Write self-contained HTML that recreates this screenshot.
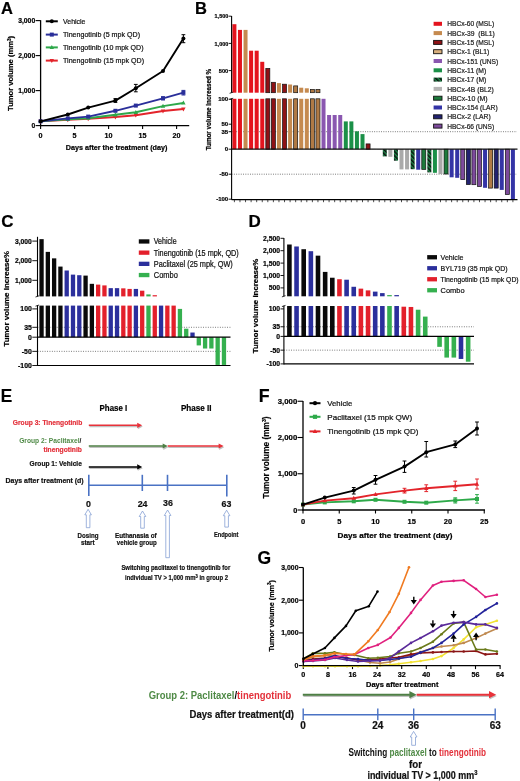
<!DOCTYPE html>
<html><head><meta charset="utf-8"><title>Figure</title>
<style>
html,body{margin:0;padding:0;background:#fff;}
body{width:520px;height:781px;overflow:hidden;}
svg{display:block;font-family:'Liberation Sans', Arial, Helvetica, sans-serif;}
</style></head><body>
<svg width="520" height="781" viewBox="0 0 520 781">
<defs>
<pattern id="hatch" patternUnits="userSpaceOnUse" width="3" height="3" patternTransform="rotate(-45)">
<rect width="3" height="3" fill="#1f8a4c"/><rect width="1.6" height="3" fill="#0b140e"/>
</pattern>
<filter id="sh" x="-5%" y="-50%" width="110%" height="300%"><feGaussianBlur stdDeviation="0.6"/></filter>
</defs>
<rect width="520" height="781" fill="#fff"/>
<text x="0.90" y="13.60" font-size="16.5" font-weight="bold" fill="#000" text-anchor="start" stroke="#000" stroke-width="0.2" >A</text>
<line x1="40.60" y1="20.20" x2="40.60" y2="126.20" stroke="#000" stroke-width="1.3" />
<line x1="40.00" y1="125.60" x2="189.20" y2="125.60" stroke="#000" stroke-width="1.3" />
<line x1="35.60" y1="125.60" x2="40.60" y2="125.60" stroke="#000" stroke-width="1.1" />
<text x="35.20" y="128.00" font-size="6.7" font-weight="bold" fill="#000" text-anchor="end" stroke="#000" stroke-width="0.2" >0</text>
<line x1="35.60" y1="90.60" x2="40.60" y2="90.60" stroke="#000" stroke-width="1.1" />
<text x="35.20" y="93.00" font-size="6.7" font-weight="bold" fill="#000" text-anchor="end" stroke="#000" stroke-width="0.2" textLength="17.0" lengthAdjust="spacingAndGlyphs" >1,000</text>
<line x1="35.60" y1="55.60" x2="40.60" y2="55.60" stroke="#000" stroke-width="1.1" />
<text x="35.20" y="58.00" font-size="6.7" font-weight="bold" fill="#000" text-anchor="end" stroke="#000" stroke-width="0.2" textLength="17.0" lengthAdjust="spacingAndGlyphs" >2,000</text>
<line x1="35.60" y1="20.60" x2="40.60" y2="20.60" stroke="#000" stroke-width="1.1" />
<text x="35.20" y="23.00" font-size="6.7" font-weight="bold" fill="#000" text-anchor="end" stroke="#000" stroke-width="0.2" textLength="17.0" lengthAdjust="spacingAndGlyphs" >3,000</text>
<line x1="40.60" y1="125.60" x2="40.60" y2="129.10" stroke="#000" stroke-width="1.1" />
<text x="40.60" y="138.20" font-size="7.2" font-weight="bold" fill="#000" text-anchor="middle" stroke="#000" stroke-width="0.2" >0</text>
<line x1="74.60" y1="125.60" x2="74.60" y2="129.10" stroke="#000" stroke-width="1.1" />
<text x="74.60" y="138.20" font-size="7.2" font-weight="bold" fill="#000" text-anchor="middle" stroke="#000" stroke-width="0.2" >5</text>
<line x1="108.60" y1="125.60" x2="108.60" y2="129.10" stroke="#000" stroke-width="1.1" />
<text x="108.60" y="138.20" font-size="7.2" font-weight="bold" fill="#000" text-anchor="middle" stroke="#000" stroke-width="0.2" >10</text>
<line x1="142.60" y1="125.60" x2="142.60" y2="129.10" stroke="#000" stroke-width="1.1" />
<text x="142.60" y="138.20" font-size="7.2" font-weight="bold" fill="#000" text-anchor="middle" stroke="#000" stroke-width="0.2" >15</text>
<line x1="176.60" y1="125.60" x2="176.60" y2="129.10" stroke="#000" stroke-width="1.1" />
<text x="176.60" y="138.20" font-size="7.2" font-weight="bold" fill="#000" text-anchor="middle" stroke="#000" stroke-width="0.2" >20</text>
<text x="116.60" y="150.30" font-size="7.4" font-weight="bold" fill="#000" text-anchor="middle" stroke="#000" stroke-width="0.2" textLength="101.5" lengthAdjust="spacingAndGlyphs" >Days after the treatment (day)</text>
<text transform="translate(13.40,73.40) rotate(-90)" font-size="7.6" font-weight="bold" fill="#000" text-anchor="middle" stroke="#000" stroke-width="0.2" >Tumor volume (mm<tspan dy="-2.6" font-size="4.7">3</tspan><tspan dy="2.6">)</tspan></text>
<polyline points="40.60,121.30 67.80,119.80 88.20,118.90 115.40,117.00 135.80,115.20 163.00,111.00 183.40,109.00" fill="none" stroke="#e3242b" stroke-width="1.9" stroke-linejoin="round" />
<polygon points="40.60,123.70 42.80,119.70 38.40,119.70" fill="#e3242b"/>
<polygon points="67.80,122.20 70.00,118.20 65.60,118.20" fill="#e3242b"/>
<polygon points="88.20,121.30 90.40,117.30 86.00,117.30" fill="#e3242b"/>
<polygon points="115.40,119.40 117.60,115.40 113.20,115.40" fill="#e3242b"/>
<polygon points="135.80,117.60 138.00,113.60 133.60,113.60" fill="#e3242b"/>
<polygon points="163.00,113.40 165.20,109.40 160.80,109.40" fill="#e3242b"/>
<polygon points="183.40,111.40 185.60,107.40 181.20,107.40" fill="#e3242b"/>
<polyline points="40.60,121.30 67.80,119.40 88.20,118.20 115.40,114.80 135.80,112.30 163.00,106.10 183.40,103.00" fill="none" stroke="#2ea84a" stroke-width="1.9" stroke-linejoin="round" />
<polygon points="40.60,118.90 42.80,122.90 38.40,122.90" fill="#2ea84a"/>
<polygon points="67.80,117.00 70.00,121.00 65.60,121.00" fill="#2ea84a"/>
<polygon points="88.20,115.80 90.40,119.80 86.00,119.80" fill="#2ea84a"/>
<polygon points="115.40,112.40 117.60,116.40 113.20,116.40" fill="#2ea84a"/>
<polygon points="135.80,109.90 138.00,113.90 133.60,113.90" fill="#2ea84a"/>
<polygon points="163.00,103.70 165.20,107.70 160.80,107.70" fill="#2ea84a"/>
<polygon points="183.40,100.60 185.60,104.60 181.20,104.60" fill="#2ea84a"/>
<polyline points="40.60,121.30 67.80,118.40 88.20,116.60 115.40,110.80 135.80,105.60 163.00,98.30 183.40,92.70" fill="none" stroke="#2a2f9a" stroke-width="1.9" stroke-linejoin="round" />
<rect x="38.60" y="119.30" width="4.00" height="4.00" fill="#2a2f9a"/>
<rect x="65.80" y="116.40" width="4.00" height="4.00" fill="#2a2f9a"/>
<rect x="86.20" y="114.60" width="4.00" height="4.00" fill="#2a2f9a"/>
<rect x="113.40" y="108.80" width="4.00" height="4.00" fill="#2a2f9a"/>
<rect x="133.80" y="103.60" width="4.00" height="4.00" fill="#2a2f9a"/>
<rect x="161.00" y="96.30" width="4.00" height="4.00" fill="#2a2f9a"/>
<rect x="181.40" y="90.70" width="4.00" height="4.00" fill="#2a2f9a"/>
<polyline points="40.60,121.30 67.80,114.50 88.20,107.60 115.40,100.60 135.80,88.30 163.00,71.00 183.40,38.60" fill="none" stroke="#000" stroke-width="1.9" stroke-linejoin="round" />
<circle cx="40.60" cy="121.30" r="2.0" fill="#000"/>
<circle cx="67.80" cy="114.50" r="2.0" fill="#000"/>
<circle cx="88.20" cy="107.60" r="2.0" fill="#000"/>
<circle cx="115.40" cy="100.60" r="2.0" fill="#000"/>
<circle cx="135.80" cy="88.30" r="2.0" fill="#000"/>
<circle cx="163.00" cy="71.00" r="2.0" fill="#000"/>
<circle cx="183.40" cy="38.60" r="2.0" fill="#000"/>
<line x1="183.40" y1="34.70" x2="183.40" y2="42.70" stroke="#000" stroke-width="1.0" />
<line x1="181.50" y1="34.70" x2="185.30" y2="34.70" stroke="#000" stroke-width="1.0" />
<line x1="181.50" y1="42.70" x2="185.30" y2="42.70" stroke="#000" stroke-width="1.0" />
<line x1="135.80" y1="84.40" x2="135.80" y2="91.80" stroke="#000" stroke-width="1.0" />
<line x1="133.90" y1="84.40" x2="137.70" y2="84.40" stroke="#000" stroke-width="1.0" />
<line x1="133.90" y1="91.80" x2="137.70" y2="91.80" stroke="#000" stroke-width="1.0" />
<line x1="115.40" y1="98.60" x2="115.40" y2="102.40" stroke="#000" stroke-width="1.0" />
<line x1="113.50" y1="98.60" x2="117.30" y2="98.60" stroke="#000" stroke-width="1.0" />
<line x1="113.50" y1="102.40" x2="117.30" y2="102.40" stroke="#000" stroke-width="1.0" />
<line x1="183.40" y1="90.40" x2="183.40" y2="95.00" stroke="#2a2f9a" stroke-width="1.0" />
<line x1="181.50" y1="90.40" x2="185.30" y2="90.40" stroke="#2a2f9a" stroke-width="1.0" />
<line x1="181.50" y1="95.00" x2="185.30" y2="95.00" stroke="#2a2f9a" stroke-width="1.0" />
<line x1="163.00" y1="96.80" x2="163.00" y2="99.80" stroke="#2a2f9a" stroke-width="1.0" />
<line x1="161.10" y1="96.80" x2="164.90" y2="96.80" stroke="#2a2f9a" stroke-width="1.0" />
<line x1="161.10" y1="99.80" x2="164.90" y2="99.80" stroke="#2a2f9a" stroke-width="1.0" />
<line x1="45.80" y1="21.30" x2="57.80" y2="21.30" stroke="#000" stroke-width="2.0" />
<circle cx="51.80" cy="21.30" r="2.0" fill="#000"/>
<text x="63.00" y="24.10" font-size="7.8" font-weight="normal" fill="#111" text-anchor="start" stroke="#111" stroke-width="0.22" textLength="22.5" lengthAdjust="spacingAndGlyphs" >Vehicle</text>
<line x1="45.80" y1="34.60" x2="57.80" y2="34.60" stroke="#2a2f9a" stroke-width="2.0" />
<rect x="49.80" y="32.60" width="4.00" height="4.00" fill="#2a2f9a"/>
<text x="63.00" y="37.40" font-size="7.8" font-weight="normal" fill="#111" text-anchor="start" stroke="#111" stroke-width="0.22" textLength="77" lengthAdjust="spacingAndGlyphs" >Tinengotinib (5 mpk QD)</text>
<line x1="45.80" y1="47.40" x2="57.80" y2="47.40" stroke="#2ea84a" stroke-width="2.0" />
<polygon points="51.80,45.00 54.00,49.00 49.60,49.00" fill="#2ea84a"/>
<text x="63.00" y="50.20" font-size="7.8" font-weight="normal" fill="#111" text-anchor="start" stroke="#111" stroke-width="0.22" textLength="80.5" lengthAdjust="spacingAndGlyphs" >Tinengotinib (10 mpk QD)</text>
<line x1="45.80" y1="60.60" x2="57.80" y2="60.60" stroke="#e3242b" stroke-width="2.0" />
<polygon points="51.80,63.00 54.00,59.00 49.60,59.00" fill="#e3242b"/>
<text x="63.00" y="63.40" font-size="7.8" font-weight="normal" fill="#111" text-anchor="start" stroke="#111" stroke-width="0.22" textLength="81" lengthAdjust="spacingAndGlyphs" >Tinengotinib (15 mpk QD)</text>
<text x="195.00" y="13.60" font-size="16.5" font-weight="bold" fill="#000" text-anchor="start" stroke="#000" stroke-width="0.2" >B</text>
<line x1="231.60" y1="131.70" x2="517.00" y2="131.70" stroke="#333" stroke-width="0.7" stroke-dasharray="0.9,1.4"/>
<line x1="231.60" y1="174.20" x2="517.00" y2="174.20" stroke="#333" stroke-width="0.7" stroke-dasharray="0.9,1.4"/>
<rect x="232.40" y="98.80" width="4.00" height="50.40" fill="#e4141e" />
<rect x="232.40" y="24.20" width="4.00" height="68.50" fill="#e4141e" />
<rect x="237.97" y="98.80" width="4.00" height="50.40" fill="#e4141e" />
<rect x="237.97" y="29.90" width="4.00" height="62.80" fill="#e4141e" />
<rect x="243.54" y="98.80" width="4.00" height="50.40" fill="#c58a4f" />
<rect x="243.54" y="29.90" width="4.00" height="62.80" fill="#c58a4f" />
<rect x="249.11" y="98.80" width="4.00" height="50.40" fill="#e4141e" />
<rect x="249.11" y="50.70" width="4.00" height="42.00" fill="#e4141e" />
<rect x="254.68" y="98.80" width="4.00" height="50.40" fill="#e4141e" />
<rect x="254.68" y="50.70" width="4.00" height="42.00" fill="#e4141e" />
<rect x="260.25" y="98.80" width="4.00" height="50.40" fill="#e4141e" />
<rect x="260.25" y="61.80" width="4.00" height="30.90" fill="#e4141e" />
<rect x="265.82" y="98.80" width="4.00" height="50.40" fill="#8e1216" stroke="#111" stroke-width="0.7" />
<rect x="265.82" y="68.40" width="4.00" height="24.30" fill="#8e1216" stroke="#111" stroke-width="0.7" />
<rect x="271.39" y="98.80" width="4.00" height="50.40" fill="#8e1216" stroke="#111" stroke-width="0.7" />
<rect x="271.39" y="82.30" width="4.00" height="10.40" fill="#8e1216" stroke="#111" stroke-width="0.7" />
<rect x="276.96" y="98.80" width="4.00" height="50.40" fill="#c58a4f" />
<rect x="276.96" y="83.10" width="4.00" height="9.60" fill="#c58a4f" />
<rect x="282.53" y="98.80" width="4.00" height="50.40" fill="#8e1216" stroke="#111" stroke-width="0.7" />
<rect x="282.53" y="84.20" width="4.00" height="8.50" fill="#8e1216" stroke="#111" stroke-width="0.7" />
<rect x="288.10" y="98.80" width="4.00" height="50.40" fill="#c58a4f" />
<rect x="288.10" y="84.50" width="4.00" height="8.20" fill="#c58a4f" />
<rect x="293.67" y="98.80" width="4.00" height="50.40" fill="#b07a45" stroke="#111" stroke-width="0.7" />
<rect x="293.67" y="85.90" width="4.00" height="6.80" fill="#b07a45" stroke="#111" stroke-width="0.7" />
<rect x="299.24" y="98.80" width="4.00" height="50.40" fill="#c58a4f" />
<rect x="299.24" y="87.70" width="4.00" height="5.00" fill="#c58a4f" />
<rect x="304.81" y="98.80" width="4.00" height="50.40" fill="#c58a4f" />
<rect x="304.81" y="88.30" width="4.00" height="4.40" fill="#c58a4f" />
<rect x="310.38" y="98.80" width="4.00" height="50.40" fill="#b07a45" stroke="#111" stroke-width="0.7" />
<rect x="310.38" y="89.40" width="4.00" height="3.30" fill="#b07a45" stroke="#111" stroke-width="0.7" />
<rect x="315.95" y="98.80" width="4.00" height="50.40" fill="#b07a45" stroke="#111" stroke-width="0.7" />
<rect x="315.95" y="89.40" width="4.00" height="3.30" fill="#b07a45" stroke="#111" stroke-width="0.7" />
<rect x="321.52" y="98.80" width="4.00" height="50.40" fill="#8a57b0" />
<rect x="327.09" y="115.00" width="4.00" height="34.20" fill="#8a57b0" />
<rect x="332.66" y="115.00" width="4.00" height="34.20" fill="#8a57b0" />
<rect x="338.23" y="115.00" width="4.00" height="34.20" fill="#8a57b0" />
<rect x="343.80" y="121.40" width="4.00" height="27.80" fill="#1b9048" />
<rect x="349.37" y="121.40" width="4.00" height="27.80" fill="#1b9048" />
<rect x="354.94" y="131.30" width="4.00" height="17.90" fill="#1b9048" />
<rect x="360.51" y="134.10" width="4.00" height="15.10" fill="#1b9048" />
<rect x="366.08" y="143.90" width="4.00" height="5.30" fill="#8e1216" stroke="#111" stroke-width="0.7" />
<rect x="371.65" y="148.90" width="4.00" height="0.30" fill="#a9a9a9" />
<rect x="377.22" y="149.20" width="4.00" height="0.30" fill="#a9a9a9" />
<rect x="382.79" y="149.20" width="4.00" height="7.20" fill="url(#hatch)" />
<rect x="388.36" y="149.20" width="4.00" height="7.60" fill="#a9a9a9" />
<rect x="393.93" y="149.20" width="4.00" height="11.50" fill="url(#hatch)" />
<rect x="399.50" y="149.20" width="4.00" height="20.20" fill="#a9a9a9" />
<rect x="405.07" y="149.20" width="4.00" height="20.20" fill="#a9a9a9" />
<rect x="410.64" y="149.20" width="4.00" height="20.00" fill="url(#hatch)" />
<rect x="416.21" y="149.20" width="4.00" height="20.50" fill="#3434a6" />
<rect x="421.78" y="149.20" width="4.00" height="20.20" fill="#1d7a3c" stroke="#111" stroke-width="0.7" />
<rect x="427.35" y="149.20" width="4.00" height="23.20" fill="url(#hatch)" />
<rect x="432.92" y="149.20" width="4.00" height="23.60" fill="#1b9048" />
<rect x="438.49" y="149.20" width="4.00" height="24.80" fill="#a9a9a9" />
<rect x="444.06" y="149.20" width="4.00" height="24.80" fill="#1d7a3c" stroke="#111" stroke-width="0.7" />
<rect x="449.63" y="149.20" width="4.00" height="28.10" fill="#3434a6" />
<rect x="455.20" y="149.20" width="4.00" height="28.60" fill="#3434a6" />
<rect x="460.77" y="149.20" width="4.00" height="30.40" fill="#7d4a9c" stroke="#111" stroke-width="0.7" />
<rect x="466.34" y="149.20" width="4.00" height="35.40" fill="#232270" stroke="#111" stroke-width="0.7" />
<rect x="471.91" y="149.20" width="4.00" height="35.50" fill="#7d4a9c" stroke="#111" stroke-width="0.7" />
<rect x="477.48" y="149.20" width="4.00" height="37.30" fill="#7d4a9c" stroke="#111" stroke-width="0.7" />
<rect x="483.05" y="149.20" width="4.00" height="38.60" fill="#3434a6" />
<rect x="488.62" y="149.20" width="4.00" height="38.90" fill="#b07a45" stroke="#111" stroke-width="0.7" />
<rect x="494.19" y="149.20" width="4.00" height="38.90" fill="#232270" stroke="#111" stroke-width="0.7" />
<rect x="499.76" y="149.20" width="4.00" height="40.70" fill="#3434a6" />
<rect x="505.33" y="149.20" width="4.00" height="45.30" fill="#7d4a9c" stroke="#111" stroke-width="0.7" />
<rect x="510.90" y="149.20" width="4.00" height="49.80" fill="#3434a6" />
<line x1="231.60" y1="16.00" x2="231.60" y2="92.70" stroke="#000" stroke-width="1.1" />
<line x1="231.60" y1="98.50" x2="231.60" y2="199.80" stroke="#000" stroke-width="1.1" />
<line x1="229.60" y1="93.30" x2="233.20" y2="92.10" stroke="#000" stroke-width="0.8" />
<line x1="229.60" y1="99.40" x2="233.20" y2="98.20" stroke="#000" stroke-width="0.8" />
<line x1="231.60" y1="149.20" x2="517.50" y2="149.20" stroke="#111" stroke-width="1.2" />
<line x1="231.60" y1="199.60" x2="517.50" y2="199.60" stroke="#000" stroke-width="1.1" />
<line x1="234.40" y1="199.60" x2="234.40" y2="202.20" stroke="#000" stroke-width="0.7" />
<line x1="239.97" y1="199.60" x2="239.97" y2="202.20" stroke="#000" stroke-width="0.7" />
<line x1="245.54" y1="199.60" x2="245.54" y2="202.20" stroke="#000" stroke-width="0.7" />
<line x1="251.11" y1="199.60" x2="251.11" y2="202.20" stroke="#000" stroke-width="0.7" />
<line x1="256.68" y1="199.60" x2="256.68" y2="202.20" stroke="#000" stroke-width="0.7" />
<line x1="262.25" y1="199.60" x2="262.25" y2="202.20" stroke="#000" stroke-width="0.7" />
<line x1="267.82" y1="199.60" x2="267.82" y2="202.20" stroke="#000" stroke-width="0.7" />
<line x1="273.39" y1="199.60" x2="273.39" y2="202.20" stroke="#000" stroke-width="0.7" />
<line x1="278.96" y1="199.60" x2="278.96" y2="202.20" stroke="#000" stroke-width="0.7" />
<line x1="284.53" y1="199.60" x2="284.53" y2="202.20" stroke="#000" stroke-width="0.7" />
<line x1="290.10" y1="199.60" x2="290.10" y2="202.20" stroke="#000" stroke-width="0.7" />
<line x1="295.67" y1="199.60" x2="295.67" y2="202.20" stroke="#000" stroke-width="0.7" />
<line x1="301.24" y1="199.60" x2="301.24" y2="202.20" stroke="#000" stroke-width="0.7" />
<line x1="306.81" y1="199.60" x2="306.81" y2="202.20" stroke="#000" stroke-width="0.7" />
<line x1="312.38" y1="199.60" x2="312.38" y2="202.20" stroke="#000" stroke-width="0.7" />
<line x1="317.95" y1="199.60" x2="317.95" y2="202.20" stroke="#000" stroke-width="0.7" />
<line x1="323.52" y1="199.60" x2="323.52" y2="202.20" stroke="#000" stroke-width="0.7" />
<line x1="329.09" y1="199.60" x2="329.09" y2="202.20" stroke="#000" stroke-width="0.7" />
<line x1="334.66" y1="199.60" x2="334.66" y2="202.20" stroke="#000" stroke-width="0.7" />
<line x1="340.23" y1="199.60" x2="340.23" y2="202.20" stroke="#000" stroke-width="0.7" />
<line x1="345.80" y1="199.60" x2="345.80" y2="202.20" stroke="#000" stroke-width="0.7" />
<line x1="351.37" y1="199.60" x2="351.37" y2="202.20" stroke="#000" stroke-width="0.7" />
<line x1="356.94" y1="199.60" x2="356.94" y2="202.20" stroke="#000" stroke-width="0.7" />
<line x1="362.51" y1="199.60" x2="362.51" y2="202.20" stroke="#000" stroke-width="0.7" />
<line x1="368.08" y1="199.60" x2="368.08" y2="202.20" stroke="#000" stroke-width="0.7" />
<line x1="373.65" y1="199.60" x2="373.65" y2="202.20" stroke="#000" stroke-width="0.7" />
<line x1="379.22" y1="199.60" x2="379.22" y2="202.20" stroke="#000" stroke-width="0.7" />
<line x1="384.79" y1="199.60" x2="384.79" y2="202.20" stroke="#000" stroke-width="0.7" />
<line x1="390.36" y1="199.60" x2="390.36" y2="202.20" stroke="#000" stroke-width="0.7" />
<line x1="395.93" y1="199.60" x2="395.93" y2="202.20" stroke="#000" stroke-width="0.7" />
<line x1="401.50" y1="199.60" x2="401.50" y2="202.20" stroke="#000" stroke-width="0.7" />
<line x1="407.07" y1="199.60" x2="407.07" y2="202.20" stroke="#000" stroke-width="0.7" />
<line x1="412.64" y1="199.60" x2="412.64" y2="202.20" stroke="#000" stroke-width="0.7" />
<line x1="418.21" y1="199.60" x2="418.21" y2="202.20" stroke="#000" stroke-width="0.7" />
<line x1="423.78" y1="199.60" x2="423.78" y2="202.20" stroke="#000" stroke-width="0.7" />
<line x1="429.35" y1="199.60" x2="429.35" y2="202.20" stroke="#000" stroke-width="0.7" />
<line x1="434.92" y1="199.60" x2="434.92" y2="202.20" stroke="#000" stroke-width="0.7" />
<line x1="440.49" y1="199.60" x2="440.49" y2="202.20" stroke="#000" stroke-width="0.7" />
<line x1="446.06" y1="199.60" x2="446.06" y2="202.20" stroke="#000" stroke-width="0.7" />
<line x1="451.63" y1="199.60" x2="451.63" y2="202.20" stroke="#000" stroke-width="0.7" />
<line x1="457.20" y1="199.60" x2="457.20" y2="202.20" stroke="#000" stroke-width="0.7" />
<line x1="462.77" y1="199.60" x2="462.77" y2="202.20" stroke="#000" stroke-width="0.7" />
<line x1="468.34" y1="199.60" x2="468.34" y2="202.20" stroke="#000" stroke-width="0.7" />
<line x1="473.91" y1="199.60" x2="473.91" y2="202.20" stroke="#000" stroke-width="0.7" />
<line x1="479.48" y1="199.60" x2="479.48" y2="202.20" stroke="#000" stroke-width="0.7" />
<line x1="485.05" y1="199.60" x2="485.05" y2="202.20" stroke="#000" stroke-width="0.7" />
<line x1="490.62" y1="199.60" x2="490.62" y2="202.20" stroke="#000" stroke-width="0.7" />
<line x1="496.19" y1="199.60" x2="496.19" y2="202.20" stroke="#000" stroke-width="0.7" />
<line x1="501.76" y1="199.60" x2="501.76" y2="202.20" stroke="#000" stroke-width="0.7" />
<line x1="507.33" y1="199.60" x2="507.33" y2="202.20" stroke="#000" stroke-width="0.7" />
<line x1="512.90" y1="199.60" x2="512.90" y2="202.20" stroke="#000" stroke-width="0.7" />
<line x1="228.60" y1="16.20" x2="231.60" y2="16.20" stroke="#000" stroke-width="0.9" />
<text x="228.20" y="18.30" font-size="6.0" font-weight="bold" fill="#000" text-anchor="end" stroke="#000" stroke-width="0.2" textLength="13.6" lengthAdjust="spacingAndGlyphs" >1,500</text>
<line x1="228.60" y1="43.40" x2="231.60" y2="43.40" stroke="#000" stroke-width="0.9" />
<text x="228.20" y="45.50" font-size="6.0" font-weight="bold" fill="#000" text-anchor="end" stroke="#000" stroke-width="0.2" textLength="13.6" lengthAdjust="spacingAndGlyphs" >1,000</text>
<line x1="228.60" y1="70.60" x2="231.60" y2="70.60" stroke="#000" stroke-width="0.9" />
<text x="228.20" y="72.70" font-size="6.0" font-weight="bold" fill="#000" text-anchor="end" stroke="#000" stroke-width="0.2" textLength="9.4" lengthAdjust="spacingAndGlyphs" >500</text>
<line x1="228.60" y1="99.20" x2="231.60" y2="99.20" stroke="#000" stroke-width="0.9" />
<text x="228.20" y="101.30" font-size="6.0" font-weight="bold" fill="#000" text-anchor="end" stroke="#000" stroke-width="0.2" >100</text>
<line x1="228.60" y1="124.20" x2="231.60" y2="124.20" stroke="#000" stroke-width="0.9" />
<text x="228.20" y="126.30" font-size="6.0" font-weight="bold" fill="#000" text-anchor="end" stroke="#000" stroke-width="0.2" >50</text>
<line x1="228.60" y1="131.70" x2="231.60" y2="131.70" stroke="#000" stroke-width="0.9" />
<text x="228.20" y="133.80" font-size="6.0" font-weight="bold" fill="#000" text-anchor="end" stroke="#000" stroke-width="0.2" >35</text>
<line x1="228.60" y1="149.20" x2="231.60" y2="149.20" stroke="#000" stroke-width="0.9" />
<text x="228.20" y="151.30" font-size="6.0" font-weight="bold" fill="#000" text-anchor="end" stroke="#000" stroke-width="0.2" >0</text>
<line x1="228.60" y1="174.20" x2="231.60" y2="174.20" stroke="#000" stroke-width="0.9" />
<text x="228.20" y="176.30" font-size="6.0" font-weight="bold" fill="#000" text-anchor="end" stroke="#000" stroke-width="0.2" >-50</text>
<line x1="228.60" y1="199.20" x2="231.60" y2="199.20" stroke="#000" stroke-width="0.9" />
<text x="228.20" y="201.30" font-size="6.0" font-weight="bold" fill="#000" text-anchor="end" stroke="#000" stroke-width="0.2" >-100</text>
<text transform="translate(210.70,109.60) rotate(-90)" font-size="7.2" font-weight="bold" fill="#000" text-anchor="middle" stroke="#000" stroke-width="0.2" textLength="81.5" lengthAdjust="spacingAndGlyphs" >Tumor volume increased %</text>
<rect x="433.60" y="21.80" width="8.40" height="4.00" fill="#e4141e" />
<text x="447.20" y="26.40" font-size="7.4" font-weight="normal" fill="#222" text-anchor="start" stroke="#222" stroke-width="0.22" textLength="47" lengthAdjust="spacingAndGlyphs" >HBCx-60 (MSL)</text>
<rect x="433.60" y="31.10" width="8.40" height="4.00" fill="#c58a4f" />
<text x="447.20" y="35.70" font-size="7.4" font-weight="normal" fill="#222" text-anchor="start" stroke="#222" stroke-width="0.22" textLength="47.5" lengthAdjust="spacingAndGlyphs" >HBCx-39&#160; (BL1)</text>
<rect x="433.60" y="40.40" width="8.40" height="4.00" fill="#8e1216" stroke="#111" stroke-width="0.9" />
<text x="447.20" y="45.00" font-size="7.4" font-weight="normal" fill="#222" text-anchor="start" stroke="#222" stroke-width="0.22" textLength="47" lengthAdjust="spacingAndGlyphs" >HBCx-15 (MSL)</text>
<rect x="433.60" y="49.70" width="8.40" height="4.00" fill="#d9b07e" stroke="#111" stroke-width="0.9" />
<text x="447.20" y="54.30" font-size="7.4" font-weight="normal" fill="#222" text-anchor="start" stroke="#222" stroke-width="0.22" textLength="42" lengthAdjust="spacingAndGlyphs" >HBCx-1 (BL1)</text>
<rect x="433.60" y="59.00" width="8.40" height="4.00" fill="#8a57b0" />
<text x="447.20" y="63.60" font-size="7.4" font-weight="normal" fill="#222" text-anchor="start" stroke="#222" stroke-width="0.22" textLength="51" lengthAdjust="spacingAndGlyphs" >HBCx-151 (UNS)</text>
<rect x="433.60" y="68.30" width="8.40" height="4.00" fill="#1b9048" />
<text x="447.20" y="72.90" font-size="7.4" font-weight="normal" fill="#222" text-anchor="start" stroke="#222" stroke-width="0.22" textLength="39" lengthAdjust="spacingAndGlyphs" >HBCx-11 (M)</text>
<rect x="433.60" y="77.60" width="8.40" height="4.00" fill="url(#hatch)" />
<text x="447.20" y="82.20" font-size="7.4" font-weight="normal" fill="#222" text-anchor="start" stroke="#222" stroke-width="0.22" textLength="39" lengthAdjust="spacingAndGlyphs" >HBCx-17 (M)</text>
<rect x="433.60" y="86.90" width="8.40" height="4.00" fill="#b4b4b4" />
<text x="447.20" y="91.50" font-size="7.4" font-weight="normal" fill="#222" text-anchor="start" stroke="#222" stroke-width="0.22" textLength="46.5" lengthAdjust="spacingAndGlyphs" >HBCx-4B (BL2)</text>
<rect x="433.60" y="96.20" width="8.40" height="4.00" fill="#1d7a3c" stroke="#111" stroke-width="0.9" />
<text x="447.20" y="100.80" font-size="7.4" font-weight="normal" fill="#222" text-anchor="start" stroke="#222" stroke-width="0.22" textLength="40.5" lengthAdjust="spacingAndGlyphs" >HBCx-10 (M)</text>
<rect x="433.60" y="105.50" width="8.40" height="4.00" fill="#3434a6" />
<text x="447.20" y="110.10" font-size="7.4" font-weight="normal" fill="#222" text-anchor="start" stroke="#222" stroke-width="0.22" textLength="50.5" lengthAdjust="spacingAndGlyphs" >HBCx-154 (LAR)</text>
<rect x="433.60" y="114.80" width="8.40" height="4.00" fill="#232270" stroke="#111" stroke-width="0.9" />
<text x="447.20" y="119.40" font-size="7.4" font-weight="normal" fill="#222" text-anchor="start" stroke="#222" stroke-width="0.22" textLength="43.5" lengthAdjust="spacingAndGlyphs" >HBCx-2 (LAR)</text>
<rect x="433.60" y="124.10" width="8.40" height="4.00" fill="#7d4a9c" stroke="#111" stroke-width="0.9" />
<text x="447.20" y="128.70" font-size="7.4" font-weight="normal" fill="#222" text-anchor="start" stroke="#222" stroke-width="0.22" textLength="47" lengthAdjust="spacingAndGlyphs" >HBCx-66 (UNS)</text>
<text x="1.20" y="227.00" font-size="17.0" font-weight="bold" fill="#000" text-anchor="start" stroke="#000" stroke-width="0.2" >C</text>
<line x1="37.50" y1="327.30" x2="230.50" y2="327.30" stroke="#333" stroke-width="0.7" stroke-dasharray="0.9,1.5"/>
<line x1="37.50" y1="351.35" x2="230.50" y2="351.35" stroke="#333" stroke-width="0.7" stroke-dasharray="0.9,1.5"/>
<rect x="39.40" y="305.60" width="4.30" height="31.60" fill="#0a0a0a" />
<rect x="39.40" y="239.14" width="4.30" height="57.26" fill="#0a0a0a" />
<rect x="45.69" y="305.60" width="4.30" height="31.60" fill="#0a0a0a" />
<rect x="45.69" y="251.88" width="4.30" height="44.52" fill="#0a0a0a" />
<rect x="51.98" y="305.60" width="4.30" height="31.60" fill="#0a0a0a" />
<rect x="51.98" y="258.35" width="4.30" height="38.05" fill="#0a0a0a" />
<rect x="58.27" y="305.60" width="4.30" height="31.60" fill="#0a0a0a" />
<rect x="58.27" y="266.58" width="4.30" height="29.82" fill="#0a0a0a" />
<rect x="64.56" y="305.60" width="4.30" height="31.60" fill="#2b2f9c" />
<rect x="64.56" y="270.50" width="4.30" height="25.90" fill="#2b2f9c" />
<rect x="70.85" y="305.60" width="4.30" height="31.60" fill="#2b2f9c" />
<rect x="70.85" y="274.62" width="4.30" height="21.78" fill="#2b2f9c" />
<rect x="77.14" y="305.60" width="4.30" height="31.60" fill="#2b2f9c" />
<rect x="77.14" y="275.20" width="4.30" height="21.20" fill="#2b2f9c" />
<rect x="83.43" y="305.60" width="4.30" height="31.60" fill="#0a0a0a" />
<rect x="83.43" y="275.60" width="4.30" height="20.80" fill="#0a0a0a" />
<rect x="89.72" y="305.60" width="4.30" height="31.60" fill="#0a0a0a" />
<rect x="89.72" y="283.83" width="4.30" height="12.57" fill="#0a0a0a" />
<rect x="96.01" y="305.60" width="4.30" height="31.60" fill="#e3202b" />
<rect x="96.01" y="284.61" width="4.30" height="11.79" fill="#e3202b" />
<rect x="102.30" y="305.60" width="4.30" height="31.60" fill="#e3202b" />
<rect x="102.30" y="285.40" width="4.30" height="11.00" fill="#e3202b" />
<rect x="108.59" y="305.60" width="4.30" height="31.60" fill="#2b2f9c" />
<rect x="108.59" y="288.14" width="4.30" height="8.26" fill="#2b2f9c" />
<rect x="114.88" y="305.60" width="4.30" height="31.60" fill="#2b2f9c" />
<rect x="114.88" y="288.14" width="4.30" height="8.26" fill="#2b2f9c" />
<rect x="121.17" y="305.60" width="4.30" height="31.60" fill="#e3202b" />
<rect x="121.17" y="288.34" width="4.30" height="8.06" fill="#e3202b" />
<rect x="127.46" y="305.60" width="4.30" height="31.60" fill="#e3202b" />
<rect x="127.46" y="288.92" width="4.30" height="7.48" fill="#e3202b" />
<rect x="133.75" y="305.60" width="4.30" height="31.60" fill="#2b2f9c" />
<rect x="133.75" y="288.92" width="4.30" height="7.48" fill="#2b2f9c" />
<rect x="140.04" y="305.60" width="4.30" height="31.60" fill="#e3202b" />
<rect x="140.04" y="290.69" width="4.30" height="5.71" fill="#e3202b" />
<rect x="146.33" y="305.60" width="4.30" height="31.60" fill="#35b04f" />
<rect x="146.33" y="294.41" width="4.30" height="1.99" fill="#35b04f" />
<rect x="152.62" y="305.60" width="4.30" height="31.60" fill="#e3202b" />
<rect x="152.62" y="295.20" width="4.30" height="1.20" fill="#e3202b" />
<rect x="158.91" y="305.60" width="4.30" height="31.60" fill="#2b2f9c" />
<rect x="165.20" y="305.60" width="4.30" height="31.60" fill="#e3202b" />
<rect x="171.49" y="305.60" width="4.30" height="31.60" fill="#e3202b" />
<rect x="177.78" y="308.90" width="4.30" height="28.30" fill="#35b04f" />
<rect x="184.07" y="328.71" width="4.30" height="8.49" fill="#35b04f" />
<rect x="190.36" y="332.53" width="4.30" height="4.67" fill="#2b2f9c" />
<rect x="196.65" y="337.20" width="4.30" height="8.21" fill="#35b04f" />
<rect x="202.94" y="337.20" width="4.30" height="11.32" fill="#35b04f" />
<rect x="209.23" y="337.20" width="4.30" height="11.32" fill="#35b04f" />
<rect x="215.52" y="337.20" width="4.30" height="27.73" fill="#35b04f" />
<rect x="221.81" y="337.20" width="4.30" height="27.73" fill="#35b04f" />
<line x1="37.50" y1="236.80" x2="37.50" y2="296.40" stroke="#000" stroke-width="1.1" />
<line x1="37.50" y1="305.30" x2="37.50" y2="366.00" stroke="#000" stroke-width="1.1" />
<line x1="35.50" y1="297.00" x2="39.10" y2="295.80" stroke="#000" stroke-width="0.8" />
<line x1="35.50" y1="306.20" x2="39.10" y2="305.00" stroke="#000" stroke-width="0.8" />
<line x1="37.50" y1="337.20" x2="230.50" y2="337.20" stroke="#000" stroke-width="1.2" />
<line x1="37.50" y1="365.50" x2="230.50" y2="365.50" stroke="#000" stroke-width="1.2" />
<line x1="32.30" y1="241.10" x2="37.50" y2="241.10" stroke="#000" stroke-width="0.9" />
<text x="31.80" y="243.58" font-size="6.9" font-weight="bold" fill="#000" text-anchor="end" stroke="#000" stroke-width="0.2" textLength="16.8" lengthAdjust="spacingAndGlyphs" >3,000</text>
<line x1="32.30" y1="260.70" x2="37.50" y2="260.70" stroke="#000" stroke-width="0.9" />
<text x="31.80" y="263.18" font-size="6.9" font-weight="bold" fill="#000" text-anchor="end" stroke="#000" stroke-width="0.2" textLength="16.8" lengthAdjust="spacingAndGlyphs" >2,000</text>
<line x1="32.30" y1="280.30" x2="37.50" y2="280.30" stroke="#000" stroke-width="0.9" />
<text x="31.80" y="282.78" font-size="6.9" font-weight="bold" fill="#000" text-anchor="end" stroke="#000" stroke-width="0.2" textLength="16.8" lengthAdjust="spacingAndGlyphs" >1,000</text>
<line x1="32.30" y1="308.90" x2="37.50" y2="308.90" stroke="#000" stroke-width="0.9" />
<text x="31.80" y="311.38" font-size="6.9" font-weight="bold" fill="#000" text-anchor="end" stroke="#000" stroke-width="0.2" >100</text>
<line x1="32.30" y1="327.30" x2="37.50" y2="327.30" stroke="#000" stroke-width="0.9" />
<text x="31.80" y="329.78" font-size="6.9" font-weight="bold" fill="#000" text-anchor="end" stroke="#000" stroke-width="0.2" >35</text>
<line x1="32.30" y1="337.20" x2="37.50" y2="337.20" stroke="#000" stroke-width="0.9" />
<text x="31.80" y="339.68" font-size="6.9" font-weight="bold" fill="#000" text-anchor="end" stroke="#000" stroke-width="0.2" >0</text>
<line x1="32.30" y1="351.35" x2="37.50" y2="351.35" stroke="#000" stroke-width="0.9" />
<text x="31.80" y="353.83" font-size="6.9" font-weight="bold" fill="#000" text-anchor="end" stroke="#000" stroke-width="0.2" >-50</text>
<line x1="32.30" y1="365.50" x2="37.50" y2="365.50" stroke="#000" stroke-width="0.9" />
<text x="31.80" y="367.98" font-size="6.9" font-weight="bold" fill="#000" text-anchor="end" stroke="#000" stroke-width="0.2" >-100</text>
<text transform="translate(9.10,298.80) rotate(-90)" font-size="8.0" font-weight="bold" fill="#000" text-anchor="middle" stroke="#000" stroke-width="0.2" textLength="95.5" lengthAdjust="spacingAndGlyphs" >Tumor volume increase%</text>
<rect x="138.80" y="239.30" width="10.60" height="4.30" fill="#0a0a0a" />
<text x="153.80" y="244.30" font-size="8.2" font-weight="normal" fill="#111" text-anchor="start" stroke="#111" stroke-width="0.22" textLength="22.8" lengthAdjust="spacingAndGlyphs" >Vehicle</text>
<rect x="138.80" y="250.50" width="10.60" height="4.30" fill="#e3202b" />
<text x="153.80" y="255.50" font-size="8.2" font-weight="normal" fill="#111" text-anchor="start" stroke="#111" stroke-width="0.22" textLength="85" lengthAdjust="spacingAndGlyphs" >Tinengotinib (15 mpk, QD)</text>
<rect x="138.80" y="261.70" width="10.60" height="4.30" fill="#2b2f9c" />
<text x="153.80" y="266.70" font-size="8.2" font-weight="normal" fill="#111" text-anchor="start" stroke="#111" stroke-width="0.22" textLength="79" lengthAdjust="spacingAndGlyphs" >Paclitaxel (25 mpk, QW)</text>
<rect x="138.80" y="272.90" width="10.60" height="4.30" fill="#35b04f" />
<text x="153.80" y="277.90" font-size="8.2" font-weight="normal" fill="#111" text-anchor="start" stroke="#111" stroke-width="0.22" textLength="24" lengthAdjust="spacingAndGlyphs" >Combo</text>
<text x="248.60" y="227.00" font-size="17.0" font-weight="bold" fill="#000" text-anchor="start" stroke="#000" stroke-width="0.2" >D</text>
<line x1="283.90" y1="326.77" x2="474.00" y2="326.77" stroke="#333" stroke-width="0.7" stroke-dasharray="0.9,1.5"/>
<line x1="283.90" y1="350.15" x2="474.00" y2="350.15" stroke="#333" stroke-width="0.7" stroke-dasharray="0.9,1.5"/>
<rect x="287.10" y="306.00" width="4.60" height="30.40" fill="#0a0a0a" />
<rect x="287.10" y="244.50" width="4.60" height="51.80" fill="#0a0a0a" />
<rect x="294.25" y="306.00" width="4.60" height="30.40" fill="#2b2f9c" />
<rect x="294.25" y="246.48" width="4.60" height="49.82" fill="#2b2f9c" />
<rect x="301.40" y="306.00" width="4.60" height="30.40" fill="#0a0a0a" />
<rect x="301.40" y="249.21" width="4.60" height="47.09" fill="#0a0a0a" />
<rect x="308.55" y="306.00" width="4.60" height="30.40" fill="#2b2f9c" />
<rect x="308.55" y="251.20" width="4.60" height="45.10" fill="#2b2f9c" />
<rect x="315.70" y="306.00" width="4.60" height="30.40" fill="#0a0a0a" />
<rect x="315.70" y="255.66" width="4.60" height="40.64" fill="#0a0a0a" />
<rect x="322.85" y="306.00" width="4.60" height="30.40" fill="#0a0a0a" />
<rect x="322.85" y="271.90" width="4.60" height="24.40" fill="#0a0a0a" />
<rect x="330.00" y="306.00" width="4.60" height="30.40" fill="#0a0a0a" />
<rect x="330.00" y="277.73" width="4.60" height="18.57" fill="#0a0a0a" />
<rect x="337.15" y="306.00" width="4.60" height="30.40" fill="#e3202b" />
<rect x="337.15" y="279.22" width="4.60" height="17.08" fill="#e3202b" />
<rect x="344.30" y="306.00" width="4.60" height="30.40" fill="#2b2f9c" />
<rect x="344.30" y="279.72" width="4.60" height="16.58" fill="#2b2f9c" />
<rect x="351.45" y="306.00" width="4.60" height="30.40" fill="#2b2f9c" />
<rect x="351.45" y="286.78" width="4.60" height="9.52" fill="#2b2f9c" />
<rect x="358.60" y="306.00" width="4.60" height="30.40" fill="#e3202b" />
<rect x="358.60" y="288.64" width="4.60" height="7.66" fill="#e3202b" />
<rect x="365.75" y="306.00" width="4.60" height="30.40" fill="#e3202b" />
<rect x="365.75" y="290.38" width="4.60" height="5.92" fill="#e3202b" />
<rect x="372.90" y="306.00" width="4.60" height="30.40" fill="#2b2f9c" />
<rect x="372.90" y="291.62" width="4.60" height="4.68" fill="#2b2f9c" />
<rect x="380.05" y="306.00" width="4.60" height="30.40" fill="#2b2f9c" />
<rect x="380.05" y="293.11" width="4.60" height="3.19" fill="#2b2f9c" />
<rect x="387.20" y="306.00" width="4.60" height="30.40" fill="#35b04f" />
<rect x="387.20" y="295.09" width="4.60" height="1.21" fill="#35b04f" />
<rect x="394.35" y="306.00" width="4.60" height="30.40" fill="#2b2f9c" />
<rect x="394.35" y="295.09" width="4.60" height="1.21" fill="#2b2f9c" />
<rect x="401.50" y="306.70" width="4.60" height="29.70" fill="#e3202b" />
<rect x="408.65" y="306.97" width="4.60" height="29.43" fill="#e3202b" />
<rect x="415.80" y="309.72" width="4.60" height="26.68" fill="#35b04f" />
<rect x="422.95" y="316.60" width="4.60" height="19.80" fill="#35b04f" />
<rect x="437.25" y="336.40" width="4.60" height="10.45" fill="#35b04f" />
<rect x="444.40" y="336.40" width="4.60" height="21.18" fill="#35b04f" />
<rect x="451.55" y="336.40" width="4.60" height="21.18" fill="#35b04f" />
<rect x="458.70" y="336.40" width="4.60" height="22.55" fill="#2b2f9c" />
<rect x="465.85" y="336.40" width="4.60" height="25.30" fill="#35b04f" />
<line x1="283.90" y1="238.10" x2="283.90" y2="296.30" stroke="#000" stroke-width="1.1" />
<line x1="283.90" y1="305.70" x2="283.90" y2="364.40" stroke="#000" stroke-width="1.1" />
<line x1="281.90" y1="296.90" x2="285.50" y2="295.70" stroke="#000" stroke-width="0.8" />
<line x1="281.90" y1="306.60" x2="285.50" y2="305.40" stroke="#000" stroke-width="0.8" />
<line x1="283.90" y1="336.40" x2="474.00" y2="336.40" stroke="#000" stroke-width="1.2" />
<line x1="283.90" y1="363.90" x2="474.00" y2="363.90" stroke="#000" stroke-width="1.2" />
<line x1="280.50" y1="238.30" x2="283.90" y2="238.30" stroke="#000" stroke-width="0.9" />
<text x="280.00" y="240.75" font-size="6.8" font-weight="bold" fill="#000" text-anchor="end" stroke="#000" stroke-width="0.2" textLength="17.0" lengthAdjust="spacingAndGlyphs" >2,500</text>
<line x1="280.50" y1="250.70" x2="283.90" y2="250.70" stroke="#000" stroke-width="0.9" />
<text x="280.00" y="253.15" font-size="6.8" font-weight="bold" fill="#000" text-anchor="end" stroke="#000" stroke-width="0.2" textLength="17.0" lengthAdjust="spacingAndGlyphs" >2,000</text>
<line x1="280.50" y1="263.10" x2="283.90" y2="263.10" stroke="#000" stroke-width="0.9" />
<text x="280.00" y="265.55" font-size="6.8" font-weight="bold" fill="#000" text-anchor="end" stroke="#000" stroke-width="0.2" textLength="17.0" lengthAdjust="spacingAndGlyphs" >1,500</text>
<line x1="280.50" y1="275.50" x2="283.90" y2="275.50" stroke="#000" stroke-width="0.9" />
<text x="280.00" y="277.95" font-size="6.8" font-weight="bold" fill="#000" text-anchor="end" stroke="#000" stroke-width="0.2" textLength="17.0" lengthAdjust="spacingAndGlyphs" >1,000</text>
<line x1="280.50" y1="287.90" x2="283.90" y2="287.90" stroke="#000" stroke-width="0.9" />
<text x="280.00" y="290.35" font-size="6.8" font-weight="bold" fill="#000" text-anchor="end" stroke="#000" stroke-width="0.2" >500</text>
<line x1="280.50" y1="308.90" x2="283.90" y2="308.90" stroke="#000" stroke-width="0.9" />
<text x="280.00" y="311.35" font-size="6.8" font-weight="bold" fill="#000" text-anchor="end" stroke="#000" stroke-width="0.2" >100</text>
<line x1="280.50" y1="326.77" x2="283.90" y2="326.77" stroke="#000" stroke-width="0.9" />
<text x="280.00" y="329.22" font-size="6.8" font-weight="bold" fill="#000" text-anchor="end" stroke="#000" stroke-width="0.2" >35</text>
<line x1="280.50" y1="336.40" x2="283.90" y2="336.40" stroke="#000" stroke-width="0.9" />
<text x="280.00" y="338.85" font-size="6.8" font-weight="bold" fill="#000" text-anchor="end" stroke="#000" stroke-width="0.2" >0</text>
<line x1="280.50" y1="350.15" x2="283.90" y2="350.15" stroke="#000" stroke-width="0.9" />
<text x="280.00" y="352.60" font-size="6.8" font-weight="bold" fill="#000" text-anchor="end" stroke="#000" stroke-width="0.2" >-50</text>
<line x1="280.50" y1="363.90" x2="283.90" y2="363.90" stroke="#000" stroke-width="0.9" />
<text x="280.00" y="366.35" font-size="6.8" font-weight="bold" fill="#000" text-anchor="end" stroke="#000" stroke-width="0.2" >-100</text>
<text transform="translate(257.60,306.00) rotate(-90)" font-size="8.0" font-weight="bold" fill="#000" text-anchor="middle" stroke="#000" stroke-width="0.2" textLength="94.5" lengthAdjust="spacingAndGlyphs" >Tumor volume increase%</text>
<rect x="427.20" y="255.10" width="9.80" height="4.30" fill="#0a0a0a" />
<text x="440.60" y="260.10" font-size="8.0" font-weight="normal" fill="#111" text-anchor="start" stroke="#111" stroke-width="0.22" textLength="22.8" lengthAdjust="spacingAndGlyphs" >Vehicle</text>
<rect x="427.20" y="266.10" width="9.80" height="4.30" fill="#2b2f9c" />
<text x="440.60" y="271.10" font-size="8.0" font-weight="normal" fill="#111" text-anchor="start" stroke="#111" stroke-width="0.22" textLength="67" lengthAdjust="spacingAndGlyphs" >BYL719 (35 mpk QD)</text>
<rect x="427.20" y="277.10" width="9.80" height="4.30" fill="#e3202b" />
<text x="440.60" y="282.10" font-size="8.0" font-weight="normal" fill="#111" text-anchor="start" stroke="#111" stroke-width="0.22" textLength="78" lengthAdjust="spacingAndGlyphs" >Tinengotinib (15 mpk QD)</text>
<rect x="427.20" y="288.10" width="9.80" height="4.30" fill="#35b04f" />
<text x="440.60" y="293.10" font-size="8.0" font-weight="normal" fill="#111" text-anchor="start" stroke="#111" stroke-width="0.22" textLength="24" lengthAdjust="spacingAndGlyphs" >Combo</text>
<text x="0.60" y="402.30" font-size="17.8" font-weight="bold" fill="#000" text-anchor="start" >E</text>
<text x="99.60" y="410.70" font-size="8.8" font-weight="bold" fill="#000" text-anchor="start" stroke="#000" stroke-width="0.2" textLength="27.7" lengthAdjust="spacingAndGlyphs" >Phase I</text>
<text x="180.90" y="410.70" font-size="8.8" font-weight="bold" fill="#000" text-anchor="start" stroke="#000" stroke-width="0.2" textLength="30.7" lengthAdjust="spacingAndGlyphs" >Phase II</text>
<text x="82.30" y="425.20" font-size="7.2" font-weight="bold" fill="#e3303a" text-anchor="end" stroke="#e3303a" stroke-width="0.2" textLength="69.5" lengthAdjust="spacingAndGlyphs" >Group 3: Tinengotinib</text>
<text x="81.4" y="442.6" font-size="7.2" font-weight="bold" text-anchor="end" textLength="62.2" lengthAdjust="spacingAndGlyphs"><tspan fill="#4f8a46">Group 2: Paclitaxel</tspan><tspan fill="#000">/</tspan></text>
<text x="81.90" y="451.70" font-size="7.2" font-weight="bold" fill="#e3303a" text-anchor="end" stroke="#e3303a" stroke-width="0.2" textLength="38.4" lengthAdjust="spacingAndGlyphs" >tinengotinib</text>
<text x="81.90" y="466.30" font-size="7.2" font-weight="bold" fill="#111" text-anchor="end" stroke="#111" stroke-width="0.2" textLength="52.3" lengthAdjust="spacingAndGlyphs" >Group 1: Vehicle</text>
<text x="83.70" y="483.10" font-size="7.4" font-weight="bold" fill="#111" text-anchor="end" stroke="#111" stroke-width="0.2" textLength="78.2" lengthAdjust="spacingAndGlyphs" >Days after treatment (d)</text>
<g filter="url(#sh)" opacity="0.45"><line x1="89.40" y1="426.60" x2="137.80" y2="426.60" stroke="#777" stroke-width="1.5"/><polygon points="142.80,426.60 137.80,424.00 137.80,429.20" fill="#777"/></g>
<line x1="88.80" y1="425.30" x2="137.70" y2="425.30" stroke="#e8323a" stroke-width="1.5" />
<polygon points="142.20,425.30 137.20,422.70 137.20,427.90" fill="#e8323a"/>
<g filter="url(#sh)" opacity="0.45"><line x1="168.30" y1="447.30" x2="219.20" y2="447.30" stroke="#777" stroke-width="1.5"/><polygon points="224.20,447.30 219.20,444.70 219.20,449.90" fill="#777"/></g>
<line x1="167.70" y1="446.00" x2="219.10" y2="446.00" stroke="#e8323a" stroke-width="1.5" />
<polygon points="223.60,446.00 218.60,443.40 218.60,448.60" fill="#e8323a"/>
<g filter="url(#sh)" opacity="0.45"><line x1="89.40" y1="447.30" x2="163.30" y2="447.30" stroke="#777" stroke-width="1.5"/><polygon points="168.30,447.30 163.30,444.70 163.30,449.90" fill="#777"/></g>
<line x1="88.80" y1="446.00" x2="163.20" y2="446.00" stroke="#4e7f45" stroke-width="1.5" />
<polygon points="167.70,446.00 162.70,443.40 162.70,448.60" fill="#4e7f45"/>
<g filter="url(#sh)" opacity="0.45"><line x1="89.40" y1="468.20" x2="137.80" y2="468.20" stroke="#777" stroke-width="1.5"/><polygon points="142.80,468.20 137.80,465.60 137.80,470.80" fill="#777"/></g>
<line x1="88.80" y1="466.90" x2="137.70" y2="466.90" stroke="#000" stroke-width="1.5" />
<polygon points="142.20,466.90 137.20,464.30 137.20,469.50" fill="#000"/>
<line x1="88.80" y1="485.20" x2="226.80" y2="485.20" stroke="#4a72c4" stroke-width="1.6" />
<line x1="88.80" y1="474.80" x2="88.80" y2="496.00" stroke="#4a72c4" stroke-width="1.6" />
<line x1="142.30" y1="474.80" x2="142.30" y2="491.00" stroke="#4a72c4" stroke-width="1.6" />
<line x1="167.50" y1="474.80" x2="167.50" y2="491.00" stroke="#4a72c4" stroke-width="1.6" />
<line x1="226.80" y1="474.80" x2="226.80" y2="496.50" stroke="#4a72c4" stroke-width="1.6" />
<text x="88.40" y="506.60" font-size="8.8" font-weight="bold" fill="#111" text-anchor="middle" stroke="#111" stroke-width="0.2" >0</text>
<text x="142.60" y="506.70" font-size="8.8" font-weight="bold" fill="#111" text-anchor="middle" stroke="#111" stroke-width="0.2" >24</text>
<text x="168.00" y="505.90" font-size="8.8" font-weight="bold" fill="#111" text-anchor="middle" stroke="#111" stroke-width="0.2" >36</text>
<text x="226.40" y="506.70" font-size="8.8" font-weight="bold" fill="#111" text-anchor="middle" stroke="#111" stroke-width="0.2" >63</text>
<polygon points="88.10,509.30 91.40,514.80 89.90,514.80 89.90,527.70 86.30,527.70 86.30,514.80 84.80,514.80" fill="#fff" stroke="#7f9bd1" stroke-width="0.75" stroke-linejoin="miter"/>
<polygon points="142.50,511.00 145.80,516.50 144.30,516.50 144.30,528.20 140.70,528.20 140.70,516.50 139.20,516.50" fill="#fff" stroke="#7f9bd1" stroke-width="0.75" stroke-linejoin="miter"/>
<polygon points="167.60,510.00 170.90,515.50 169.40,515.50 169.40,557.70 165.80,557.70 165.80,515.50 164.30,515.50" fill="#fff" stroke="#7f9bd1" stroke-width="0.75" stroke-linejoin="miter"/>
<polygon points="226.60,510.20 229.90,515.70 228.40,515.70 228.40,527.10 224.80,527.10 224.80,515.70 223.30,515.70" fill="#fff" stroke="#7f9bd1" stroke-width="0.75" stroke-linejoin="miter"/>
<text x="88.00" y="537.60" font-size="6.9" font-weight="bold" fill="#111" text-anchor="middle" stroke="#111" stroke-width="0.2" textLength="20.9" lengthAdjust="spacingAndGlyphs" >Dosing</text>
<text x="87.80" y="545.20" font-size="6.9" font-weight="bold" fill="#111" text-anchor="middle" stroke="#111" stroke-width="0.2" textLength="13.7" lengthAdjust="spacingAndGlyphs" >start</text>
<text x="135.80" y="537.60" font-size="6.9" font-weight="bold" fill="#111" text-anchor="middle" stroke="#111" stroke-width="0.2" textLength="41.8" lengthAdjust="spacingAndGlyphs" >Euthanasia of</text>
<text x="136.80" y="545.40" font-size="6.9" font-weight="bold" fill="#111" text-anchor="middle" stroke="#111" stroke-width="0.2" textLength="39.9" lengthAdjust="spacingAndGlyphs" >vehicle group</text>
<text x="226.20" y="537.40" font-size="6.9" font-weight="bold" fill="#111" text-anchor="middle" stroke="#111" stroke-width="0.2" textLength="24.5" lengthAdjust="spacingAndGlyphs" >Endpoint</text>
<text x="175.80" y="570.40" font-size="6.6" font-weight="bold" fill="#111" text-anchor="middle" stroke="#111" stroke-width="0.2" textLength="108.8" lengthAdjust="spacingAndGlyphs" >Switching paclitaxel to tinengotinib for</text>
<text x="176.50" y="579.70" font-size="6.6" font-weight="bold" fill="#111" text-anchor="middle" stroke="#111" stroke-width="0.2" textLength="103" lengthAdjust="spacingAndGlyphs" >individual TV &gt; 1,000 mm<tspan font-size="4.5" dy="-2.2">3</tspan><tspan dy="2.2"> in group 2</tspan></text>
<text x="258.80" y="402.30" font-size="17.8" font-weight="bold" fill="#000" text-anchor="start" stroke="#000" stroke-width="0.2" >F</text>
<line x1="303.00" y1="401.00" x2="303.00" y2="510.60" stroke="#000" stroke-width="1.3" />
<line x1="302.40" y1="510.00" x2="485.00" y2="510.00" stroke="#000" stroke-width="1.3" />
<line x1="297.60" y1="510.00" x2="303.00" y2="510.00" stroke="#000" stroke-width="1.1" />
<text x="297.20" y="512.70" font-size="7.3" font-weight="bold" fill="#000" text-anchor="end" stroke="#000" stroke-width="0.2" >0</text>
<line x1="297.60" y1="473.75" x2="303.00" y2="473.75" stroke="#000" stroke-width="1.1" />
<text x="297.20" y="476.45" font-size="7.3" font-weight="bold" fill="#000" text-anchor="end" stroke="#000" stroke-width="0.2" textLength="19.4" lengthAdjust="spacingAndGlyphs" >1,000</text>
<line x1="297.60" y1="437.50" x2="303.00" y2="437.50" stroke="#000" stroke-width="1.1" />
<text x="297.20" y="440.20" font-size="7.3" font-weight="bold" fill="#000" text-anchor="end" stroke="#000" stroke-width="0.2" textLength="19.4" lengthAdjust="spacingAndGlyphs" >2,000</text>
<line x1="297.60" y1="401.25" x2="303.00" y2="401.25" stroke="#000" stroke-width="1.1" />
<text x="297.20" y="403.95" font-size="7.3" font-weight="bold" fill="#000" text-anchor="end" stroke="#000" stroke-width="0.2" textLength="19.4" lengthAdjust="spacingAndGlyphs" >3,000</text>
<line x1="303.00" y1="510.00" x2="303.00" y2="513.50" stroke="#000" stroke-width="1.1" />
<text x="303.00" y="523.80" font-size="7.5" font-weight="bold" fill="#000" text-anchor="middle" stroke="#000" stroke-width="0.2" >0</text>
<line x1="339.25" y1="510.00" x2="339.25" y2="513.50" stroke="#000" stroke-width="1.1" />
<text x="339.25" y="523.80" font-size="7.5" font-weight="bold" fill="#000" text-anchor="middle" stroke="#000" stroke-width="0.2" >5</text>
<line x1="375.50" y1="510.00" x2="375.50" y2="513.50" stroke="#000" stroke-width="1.1" />
<text x="375.50" y="523.80" font-size="7.5" font-weight="bold" fill="#000" text-anchor="middle" stroke="#000" stroke-width="0.2" >10</text>
<line x1="411.75" y1="510.00" x2="411.75" y2="513.50" stroke="#000" stroke-width="1.1" />
<text x="411.75" y="523.80" font-size="7.5" font-weight="bold" fill="#000" text-anchor="middle" stroke="#000" stroke-width="0.2" >15</text>
<line x1="448.00" y1="510.00" x2="448.00" y2="513.50" stroke="#000" stroke-width="1.1" />
<text x="448.00" y="523.80" font-size="7.5" font-weight="bold" fill="#000" text-anchor="middle" stroke="#000" stroke-width="0.2" >20</text>
<line x1="484.25" y1="510.00" x2="484.25" y2="513.50" stroke="#000" stroke-width="1.1" />
<text x="484.25" y="523.80" font-size="7.5" font-weight="bold" fill="#000" text-anchor="middle" stroke="#000" stroke-width="0.2" >25</text>
<text x="395.00" y="537.60" font-size="7.4" font-weight="bold" fill="#000" text-anchor="middle" stroke="#000" stroke-width="0.2" textLength="115" lengthAdjust="spacingAndGlyphs" >Days after the treatment (day)</text>
<text transform="translate(268.60,457.40) rotate(-90)" font-size="8.3" font-weight="bold" fill="#000" text-anchor="middle" stroke="#000" stroke-width="0.2" >Tumor volume (mm<tspan dy="-2.9" font-size="5.2">3</tspan><tspan dy="2.9">)</tspan></text>
<polyline points="303.00,504.60 324.75,502.40 353.75,501.30 375.50,499.80 404.50,501.80 426.25,502.70 455.25,500.40 477.00,499.00" fill="none" stroke="#2eaa4a" stroke-width="1.9" stroke-linejoin="round" />
<rect x="301.00" y="502.60" width="4.00" height="4.00" fill="#2eaa4a"/>
<rect x="322.75" y="500.40" width="4.00" height="4.00" fill="#2eaa4a"/>
<rect x="351.75" y="499.30" width="4.00" height="4.00" fill="#2eaa4a"/>
<rect x="373.50" y="497.80" width="4.00" height="4.00" fill="#2eaa4a"/>
<rect x="402.50" y="499.80" width="4.00" height="4.00" fill="#2eaa4a"/>
<rect x="424.25" y="500.70" width="4.00" height="4.00" fill="#2eaa4a"/>
<rect x="453.25" y="498.40" width="4.00" height="4.00" fill="#2eaa4a"/>
<rect x="475.00" y="497.00" width="4.00" height="4.00" fill="#2eaa4a"/>
<polyline points="303.00,504.60 324.75,500.60 353.75,498.20 375.50,494.40 404.50,490.60 426.25,488.30 455.25,486.00 477.00,484.20" fill="none" stroke="#e3242b" stroke-width="1.9" stroke-linejoin="round" />
<polygon points="303.00,502.20 305.20,506.20 300.80,506.20" fill="#e3242b"/>
<polygon points="324.75,498.20 326.95,502.20 322.55,502.20" fill="#e3242b"/>
<polygon points="353.75,495.80 355.95,499.80 351.55,499.80" fill="#e3242b"/>
<polygon points="375.50,492.00 377.70,496.00 373.30,496.00" fill="#e3242b"/>
<polygon points="404.50,488.20 406.70,492.20 402.30,492.20" fill="#e3242b"/>
<polygon points="426.25,485.90 428.45,489.90 424.05,489.90" fill="#e3242b"/>
<polygon points="455.25,483.60 457.45,487.60 453.05,487.60" fill="#e3242b"/>
<polygon points="477.00,481.80 479.20,485.80 474.80,485.80" fill="#e3242b"/>
<polyline points="303.00,504.60 324.75,497.60 353.75,490.60 375.50,479.80 404.50,466.60 426.25,452.20 455.25,444.40 477.00,428.60" fill="none" stroke="#000" stroke-width="1.9" stroke-linejoin="round" />
<circle cx="303.00" cy="504.60" r="2.0" fill="#000"/>
<circle cx="324.75" cy="497.60" r="2.0" fill="#000"/>
<circle cx="353.75" cy="490.60" r="2.0" fill="#000"/>
<circle cx="375.50" cy="479.80" r="2.0" fill="#000"/>
<circle cx="404.50" cy="466.60" r="2.0" fill="#000"/>
<circle cx="426.25" cy="452.20" r="2.0" fill="#000"/>
<circle cx="455.25" cy="444.40" r="2.0" fill="#000"/>
<circle cx="477.00" cy="428.60" r="2.0" fill="#000"/>
<line x1="353.75" y1="487.50" x2="353.75" y2="494.00" stroke="#000" stroke-width="1.0" />
<line x1="351.85" y1="487.50" x2="355.65" y2="487.50" stroke="#000" stroke-width="1.0" />
<line x1="351.85" y1="494.00" x2="355.65" y2="494.00" stroke="#000" stroke-width="1.0" />
<line x1="375.50" y1="475.50" x2="375.50" y2="484.20" stroke="#000" stroke-width="1.0" />
<line x1="373.60" y1="475.50" x2="377.40" y2="475.50" stroke="#000" stroke-width="1.0" />
<line x1="373.60" y1="484.20" x2="377.40" y2="484.20" stroke="#000" stroke-width="1.0" />
<line x1="404.50" y1="461.00" x2="404.50" y2="472.40" stroke="#000" stroke-width="1.0" />
<line x1="402.60" y1="461.00" x2="406.40" y2="461.00" stroke="#000" stroke-width="1.0" />
<line x1="402.60" y1="472.40" x2="406.40" y2="472.40" stroke="#000" stroke-width="1.0" />
<line x1="426.25" y1="441.50" x2="426.25" y2="457.00" stroke="#000" stroke-width="1.0" />
<line x1="424.35" y1="441.50" x2="428.15" y2="441.50" stroke="#000" stroke-width="1.0" />
<line x1="424.35" y1="457.00" x2="428.15" y2="457.00" stroke="#000" stroke-width="1.0" />
<line x1="455.25" y1="441.00" x2="455.25" y2="447.60" stroke="#000" stroke-width="1.0" />
<line x1="453.35" y1="441.00" x2="457.15" y2="441.00" stroke="#000" stroke-width="1.0" />
<line x1="453.35" y1="447.60" x2="457.15" y2="447.60" stroke="#000" stroke-width="1.0" />
<line x1="477.00" y1="422.00" x2="477.00" y2="435.00" stroke="#000" stroke-width="1.0" />
<line x1="475.10" y1="422.00" x2="478.90" y2="422.00" stroke="#000" stroke-width="1.0" />
<line x1="475.10" y1="435.00" x2="478.90" y2="435.00" stroke="#000" stroke-width="1.0" />
<line x1="404.50" y1="488.30" x2="404.50" y2="493.00" stroke="#e3242b" stroke-width="1.0" />
<line x1="402.60" y1="488.30" x2="406.40" y2="488.30" stroke="#e3242b" stroke-width="1.0" />
<line x1="402.60" y1="493.00" x2="406.40" y2="493.00" stroke="#e3242b" stroke-width="1.0" />
<line x1="426.25" y1="484.80" x2="426.25" y2="491.60" stroke="#e3242b" stroke-width="1.0" />
<line x1="424.35" y1="484.80" x2="428.15" y2="484.80" stroke="#e3242b" stroke-width="1.0" />
<line x1="424.35" y1="491.60" x2="428.15" y2="491.60" stroke="#e3242b" stroke-width="1.0" />
<line x1="455.25" y1="481.20" x2="455.25" y2="490.60" stroke="#e3242b" stroke-width="1.0" />
<line x1="453.35" y1="481.20" x2="457.15" y2="481.20" stroke="#e3242b" stroke-width="1.0" />
<line x1="453.35" y1="490.60" x2="457.15" y2="490.60" stroke="#e3242b" stroke-width="1.0" />
<line x1="477.00" y1="479.00" x2="477.00" y2="489.00" stroke="#e3242b" stroke-width="1.0" />
<line x1="475.10" y1="479.00" x2="478.90" y2="479.00" stroke="#e3242b" stroke-width="1.0" />
<line x1="475.10" y1="489.00" x2="478.90" y2="489.00" stroke="#e3242b" stroke-width="1.0" />
<line x1="455.25" y1="497.80" x2="455.25" y2="503.00" stroke="#2eaa4a" stroke-width="1.0" />
<line x1="453.35" y1="497.80" x2="457.15" y2="497.80" stroke="#2eaa4a" stroke-width="1.0" />
<line x1="453.35" y1="503.00" x2="457.15" y2="503.00" stroke="#2eaa4a" stroke-width="1.0" />
<line x1="477.00" y1="494.60" x2="477.00" y2="503.20" stroke="#2eaa4a" stroke-width="1.0" />
<line x1="475.10" y1="494.60" x2="478.90" y2="494.60" stroke="#2eaa4a" stroke-width="1.0" />
<line x1="475.10" y1="503.20" x2="478.90" y2="503.20" stroke="#2eaa4a" stroke-width="1.0" />
<line x1="309.50" y1="403.20" x2="320.50" y2="403.20" stroke="#000" stroke-width="2.0" />
<circle cx="315.00" cy="403.20" r="2.1" fill="#000"/>
<text x="327.30" y="406.10" font-size="8.1" font-weight="normal" fill="#111" text-anchor="start" stroke="#111" stroke-width="0.22" textLength="25.0" lengthAdjust="spacingAndGlyphs" >Vehicle</text>
<line x1="309.50" y1="416.80" x2="320.50" y2="416.80" stroke="#2eaa4a" stroke-width="2.0" />
<rect x="312.90" y="414.70" width="4.20" height="4.20" fill="#2eaa4a"/>
<text x="327.30" y="419.70" font-size="8.1" font-weight="normal" fill="#111" text-anchor="start" stroke="#111" stroke-width="0.22" textLength="84.8" lengthAdjust="spacingAndGlyphs" >Paclitaxel (15 mpk QW)</text>
<line x1="309.50" y1="431.40" x2="320.50" y2="431.40" stroke="#e3242b" stroke-width="2.0" />
<polygon points="315.00,428.88 317.31,433.08 312.69,433.08" fill="#e3242b"/>
<text x="327.30" y="434.30" font-size="8.1" font-weight="normal" fill="#111" text-anchor="start" stroke="#111" stroke-width="0.22" textLength="91" lengthAdjust="spacingAndGlyphs" >Tinengotinib (15 mpk QD)</text>
<text x="257.40" y="564.10" font-size="17.5" font-weight="bold" fill="#000" text-anchor="start" stroke="#000" stroke-width="0.2" >G</text>
<line x1="298.90" y1="665.60" x2="303.30" y2="665.60" stroke="#000" stroke-width="1.1" />
<text x="298.50" y="668.10" font-size="7.0" font-weight="bold" fill="#000" text-anchor="end" stroke="#000" stroke-width="0.2" >0</text>
<line x1="298.90" y1="632.90" x2="303.30" y2="632.90" stroke="#000" stroke-width="1.1" />
<text x="298.50" y="635.40" font-size="7.0" font-weight="bold" fill="#000" text-anchor="end" stroke="#000" stroke-width="0.2" textLength="17.2" lengthAdjust="spacingAndGlyphs" >1,000</text>
<line x1="298.90" y1="600.20" x2="303.30" y2="600.20" stroke="#000" stroke-width="1.1" />
<text x="298.50" y="602.70" font-size="7.0" font-weight="bold" fill="#000" text-anchor="end" stroke="#000" stroke-width="0.2" textLength="17.2" lengthAdjust="spacingAndGlyphs" >2,000</text>
<line x1="298.90" y1="567.50" x2="303.30" y2="567.50" stroke="#000" stroke-width="1.1" />
<text x="298.50" y="570.00" font-size="7.0" font-weight="bold" fill="#000" text-anchor="end" stroke="#000" stroke-width="0.2" textLength="17.2" lengthAdjust="spacingAndGlyphs" >3,000</text>
<line x1="303.30" y1="665.60" x2="303.30" y2="669.10" stroke="#000" stroke-width="1.1" />
<text x="303.30" y="677.20" font-size="7.2" font-weight="bold" fill="#000" text-anchor="middle" stroke="#000" stroke-width="0.2" >0</text>
<line x1="327.90" y1="665.60" x2="327.90" y2="669.10" stroke="#000" stroke-width="1.1" />
<text x="327.90" y="677.20" font-size="7.2" font-weight="bold" fill="#000" text-anchor="middle" stroke="#000" stroke-width="0.2" >8</text>
<line x1="352.50" y1="665.60" x2="352.50" y2="669.10" stroke="#000" stroke-width="1.1" />
<text x="352.50" y="677.20" font-size="7.2" font-weight="bold" fill="#000" text-anchor="middle" stroke="#000" stroke-width="0.2" >16</text>
<line x1="377.10" y1="665.60" x2="377.10" y2="669.10" stroke="#000" stroke-width="1.1" />
<text x="377.10" y="677.20" font-size="7.2" font-weight="bold" fill="#000" text-anchor="middle" stroke="#000" stroke-width="0.2" >24</text>
<line x1="401.70" y1="665.60" x2="401.70" y2="669.10" stroke="#000" stroke-width="1.1" />
<text x="401.70" y="677.20" font-size="7.2" font-weight="bold" fill="#000" text-anchor="middle" stroke="#000" stroke-width="0.2" >32</text>
<line x1="426.30" y1="665.60" x2="426.30" y2="669.10" stroke="#000" stroke-width="1.1" />
<text x="426.30" y="677.20" font-size="7.2" font-weight="bold" fill="#000" text-anchor="middle" stroke="#000" stroke-width="0.2" >40</text>
<line x1="450.90" y1="665.60" x2="450.90" y2="669.10" stroke="#000" stroke-width="1.1" />
<text x="450.90" y="677.20" font-size="7.2" font-weight="bold" fill="#000" text-anchor="middle" stroke="#000" stroke-width="0.2" >48</text>
<line x1="475.50" y1="665.60" x2="475.50" y2="669.10" stroke="#000" stroke-width="1.1" />
<text x="475.50" y="677.20" font-size="7.2" font-weight="bold" fill="#000" text-anchor="middle" stroke="#000" stroke-width="0.2" >56</text>
<line x1="500.10" y1="665.60" x2="500.10" y2="669.10" stroke="#000" stroke-width="1.1" />
<text x="500.10" y="677.20" font-size="7.2" font-weight="bold" fill="#000" text-anchor="middle" stroke="#000" stroke-width="0.2" >64</text>
<text x="402.20" y="687.40" font-size="7.3" font-weight="bold" fill="#000" text-anchor="middle" stroke="#000" stroke-width="0.2" textLength="72.4" lengthAdjust="spacingAndGlyphs" >Days after treatment</text>
<text transform="translate(274.00,615.70) rotate(-90)" font-size="7.2" font-weight="bold" fill="#000" text-anchor="middle" stroke="#000" stroke-width="0.2" textLength="71.4" lengthAdjust="spacingAndGlyphs" >Tumor volume (mm<tspan dy="-2.6" font-size="4.6">3</tspan><tspan dy="2.6">)</tspan></text>
<polyline points="303.50,666.20 313.00,666.20 325.00,666.20 335.00,666.20 347.00,666.20 358.00,666.20 370.00,666.00 380.00,665.60 390.00,664.80 398.80,663.80 411.00,662.20 420.50,661.00 432.90,659.00 441.50,656.10 453.60,648.00 463.70,639.40 476.10,627.30 485.40,624.40 496.90,620.70" fill="none" stroke="#f2e234" stroke-width="1.6" stroke-linejoin="round" />
<circle cx="303.50" cy="666.20" r="1.3" fill="#f2e234"/>
<circle cx="313.00" cy="666.20" r="1.3" fill="#f2e234"/>
<circle cx="325.00" cy="666.20" r="1.3" fill="#f2e234"/>
<circle cx="335.00" cy="666.20" r="1.3" fill="#f2e234"/>
<circle cx="347.00" cy="666.20" r="1.3" fill="#f2e234"/>
<circle cx="358.00" cy="666.20" r="1.3" fill="#f2e234"/>
<circle cx="370.00" cy="666.00" r="1.3" fill="#f2e234"/>
<circle cx="380.00" cy="665.60" r="1.3" fill="#f2e234"/>
<circle cx="390.00" cy="664.80" r="1.3" fill="#f2e234"/>
<circle cx="398.80" cy="663.80" r="1.3" fill="#f2e234"/>
<circle cx="411.00" cy="662.20" r="1.3" fill="#f2e234"/>
<circle cx="420.50" cy="661.00" r="1.3" fill="#f2e234"/>
<circle cx="432.90" cy="659.00" r="1.3" fill="#f2e234"/>
<circle cx="441.50" cy="656.10" r="1.3" fill="#f2e234"/>
<circle cx="453.60" cy="648.00" r="1.3" fill="#f2e234"/>
<circle cx="463.70" cy="639.40" r="1.3" fill="#f2e234"/>
<circle cx="476.10" cy="627.30" r="1.3" fill="#f2e234"/>
<circle cx="485.40" cy="624.40" r="1.3" fill="#f2e234"/>
<circle cx="496.90" cy="620.70" r="1.3" fill="#f2e234"/>
<polyline points="303.50,660.00 313.00,657.00 325.00,655.50 335.00,656.00 347.00,658.00 358.00,660.00 370.00,662.50 380.00,663.20 390.00,662.00 398.80,659.00 411.00,655.00 420.50,652.00 432.90,648.00 441.50,646.50 453.60,645.20 463.70,642.90 476.10,638.00 485.40,633.60 496.90,628.50" fill="none" stroke="#c08a50" stroke-width="1.6" stroke-linejoin="round" />
<circle cx="303.50" cy="660.00" r="1.3" fill="#c08a50"/>
<circle cx="313.00" cy="657.00" r="1.3" fill="#c08a50"/>
<circle cx="325.00" cy="655.50" r="1.3" fill="#c08a50"/>
<circle cx="335.00" cy="656.00" r="1.3" fill="#c08a50"/>
<circle cx="347.00" cy="658.00" r="1.3" fill="#c08a50"/>
<circle cx="358.00" cy="660.00" r="1.3" fill="#c08a50"/>
<circle cx="370.00" cy="662.50" r="1.3" fill="#c08a50"/>
<circle cx="380.00" cy="663.20" r="1.3" fill="#c08a50"/>
<circle cx="390.00" cy="662.00" r="1.3" fill="#c08a50"/>
<circle cx="398.80" cy="659.00" r="1.3" fill="#c08a50"/>
<circle cx="411.00" cy="655.00" r="1.3" fill="#c08a50"/>
<circle cx="420.50" cy="652.00" r="1.3" fill="#c08a50"/>
<circle cx="432.90" cy="648.00" r="1.3" fill="#c08a50"/>
<circle cx="441.50" cy="646.50" r="1.3" fill="#c08a50"/>
<circle cx="453.60" cy="645.20" r="1.3" fill="#c08a50"/>
<circle cx="463.70" cy="642.90" r="1.3" fill="#c08a50"/>
<circle cx="476.10" cy="638.00" r="1.3" fill="#c08a50"/>
<circle cx="485.40" cy="633.60" r="1.3" fill="#c08a50"/>
<circle cx="496.90" cy="628.50" r="1.3" fill="#c08a50"/>
<polyline points="303.50,661.00 313.00,659.00 325.00,658.00 335.00,656.50 347.00,658.00 358.00,660.00 370.00,659.60 380.00,659.00 390.00,658.00 398.80,657.30 411.00,654.40 420.50,653.00 432.90,652.40 441.50,652.00 453.60,651.50 463.70,651.50 476.10,651.00 485.40,654.40 496.90,653.80" fill="none" stroke="#8b1515" stroke-width="1.6" stroke-linejoin="round" />
<circle cx="303.50" cy="661.00" r="1.3" fill="#8b1515"/>
<circle cx="313.00" cy="659.00" r="1.3" fill="#8b1515"/>
<circle cx="325.00" cy="658.00" r="1.3" fill="#8b1515"/>
<circle cx="335.00" cy="656.50" r="1.3" fill="#8b1515"/>
<circle cx="347.00" cy="658.00" r="1.3" fill="#8b1515"/>
<circle cx="358.00" cy="660.00" r="1.3" fill="#8b1515"/>
<circle cx="370.00" cy="659.60" r="1.3" fill="#8b1515"/>
<circle cx="380.00" cy="659.00" r="1.3" fill="#8b1515"/>
<circle cx="390.00" cy="658.00" r="1.3" fill="#8b1515"/>
<circle cx="398.80" cy="657.30" r="1.3" fill="#8b1515"/>
<circle cx="411.00" cy="654.40" r="1.3" fill="#8b1515"/>
<circle cx="420.50" cy="653.00" r="1.3" fill="#8b1515"/>
<circle cx="432.90" cy="652.40" r="1.3" fill="#8b1515"/>
<circle cx="441.50" cy="652.00" r="1.3" fill="#8b1515"/>
<circle cx="453.60" cy="651.50" r="1.3" fill="#8b1515"/>
<circle cx="463.70" cy="651.50" r="1.3" fill="#8b1515"/>
<circle cx="476.10" cy="651.00" r="1.3" fill="#8b1515"/>
<circle cx="485.40" cy="654.40" r="1.3" fill="#8b1515"/>
<circle cx="496.90" cy="653.80" r="1.3" fill="#8b1515"/>
<polyline points="303.50,658.80 312.80,653.40 324.90,653.40 334.40,652.30 346.00,654.50 354.50,655.00 368.30,658.20 377.80,657.80 390.00,656.50 398.80,653.30 411.00,651.50 420.50,648.00 432.90,641.70 441.50,634.20 453.60,623.50 463.70,622.10 476.10,649.50 485.40,649.50 496.90,651.50" fill="none" stroke="#6a7a1a" stroke-width="1.6" stroke-linejoin="round" />
<circle cx="303.50" cy="658.80" r="1.3" fill="#6a7a1a"/>
<circle cx="312.80" cy="653.40" r="1.3" fill="#6a7a1a"/>
<circle cx="324.90" cy="653.40" r="1.3" fill="#6a7a1a"/>
<circle cx="334.40" cy="652.30" r="1.3" fill="#6a7a1a"/>
<circle cx="346.00" cy="654.50" r="1.3" fill="#6a7a1a"/>
<circle cx="354.50" cy="655.00" r="1.3" fill="#6a7a1a"/>
<circle cx="368.30" cy="658.20" r="1.3" fill="#6a7a1a"/>
<circle cx="377.80" cy="657.80" r="1.3" fill="#6a7a1a"/>
<circle cx="390.00" cy="656.50" r="1.3" fill="#6a7a1a"/>
<circle cx="398.80" cy="653.30" r="1.3" fill="#6a7a1a"/>
<circle cx="411.00" cy="651.50" r="1.3" fill="#6a7a1a"/>
<circle cx="420.50" cy="648.00" r="1.3" fill="#6a7a1a"/>
<circle cx="432.90" cy="641.70" r="1.3" fill="#6a7a1a"/>
<circle cx="441.50" cy="634.20" r="1.3" fill="#6a7a1a"/>
<circle cx="453.60" cy="623.50" r="1.3" fill="#6a7a1a"/>
<circle cx="463.70" cy="622.10" r="1.3" fill="#6a7a1a"/>
<circle cx="476.10" cy="649.50" r="1.3" fill="#6a7a1a"/>
<circle cx="485.40" cy="649.50" r="1.3" fill="#6a7a1a"/>
<circle cx="496.90" cy="651.50" r="1.3" fill="#6a7a1a"/>
<polyline points="303.50,661.00 313.00,660.00 325.00,658.50 335.00,655.50 347.00,658.50 358.00,659.00 370.00,660.50 380.00,660.50 390.00,659.50 398.80,658.50 411.00,656.70 420.50,652.40 432.90,648.00 441.50,642.90 453.60,633.60 463.70,624.40 476.10,616.90 485.40,610.00 496.90,603.40" fill="none" stroke="#23239a" stroke-width="1.6" stroke-linejoin="round" />
<circle cx="303.50" cy="661.00" r="1.3" fill="#23239a"/>
<circle cx="313.00" cy="660.00" r="1.3" fill="#23239a"/>
<circle cx="325.00" cy="658.50" r="1.3" fill="#23239a"/>
<circle cx="335.00" cy="655.50" r="1.3" fill="#23239a"/>
<circle cx="347.00" cy="658.50" r="1.3" fill="#23239a"/>
<circle cx="358.00" cy="659.00" r="1.3" fill="#23239a"/>
<circle cx="370.00" cy="660.50" r="1.3" fill="#23239a"/>
<circle cx="380.00" cy="660.50" r="1.3" fill="#23239a"/>
<circle cx="390.00" cy="659.50" r="1.3" fill="#23239a"/>
<circle cx="398.80" cy="658.50" r="1.3" fill="#23239a"/>
<circle cx="411.00" cy="656.70" r="1.3" fill="#23239a"/>
<circle cx="420.50" cy="652.40" r="1.3" fill="#23239a"/>
<circle cx="432.90" cy="648.00" r="1.3" fill="#23239a"/>
<circle cx="441.50" cy="642.90" r="1.3" fill="#23239a"/>
<circle cx="453.60" cy="633.60" r="1.3" fill="#23239a"/>
<circle cx="463.70" cy="624.40" r="1.3" fill="#23239a"/>
<circle cx="476.10" cy="616.90" r="1.3" fill="#23239a"/>
<circle cx="485.40" cy="610.00" r="1.3" fill="#23239a"/>
<circle cx="496.90" cy="603.40" r="1.3" fill="#23239a"/>
<polyline points="303.50,661.50 313.00,661.00 325.00,660.00 335.00,658.00 347.00,660.00 358.00,661.50 370.00,661.00 380.00,660.50 389.60,658.20 398.80,651.50 411.00,642.90 420.50,638.00 432.90,631.30 441.50,625.60 453.60,622.70 463.70,622.10 476.10,624.40 485.40,624.40 496.90,627.90" fill="none" stroke="#5a2a9a" stroke-width="1.6" stroke-linejoin="round" />
<circle cx="303.50" cy="661.50" r="1.3" fill="#5a2a9a"/>
<circle cx="313.00" cy="661.00" r="1.3" fill="#5a2a9a"/>
<circle cx="325.00" cy="660.00" r="1.3" fill="#5a2a9a"/>
<circle cx="335.00" cy="658.00" r="1.3" fill="#5a2a9a"/>
<circle cx="347.00" cy="660.00" r="1.3" fill="#5a2a9a"/>
<circle cx="358.00" cy="661.50" r="1.3" fill="#5a2a9a"/>
<circle cx="370.00" cy="661.00" r="1.3" fill="#5a2a9a"/>
<circle cx="380.00" cy="660.50" r="1.3" fill="#5a2a9a"/>
<circle cx="389.60" cy="658.20" r="1.3" fill="#5a2a9a"/>
<circle cx="398.80" cy="651.50" r="1.3" fill="#5a2a9a"/>
<circle cx="411.00" cy="642.90" r="1.3" fill="#5a2a9a"/>
<circle cx="420.50" cy="638.00" r="1.3" fill="#5a2a9a"/>
<circle cx="432.90" cy="631.30" r="1.3" fill="#5a2a9a"/>
<circle cx="441.50" cy="625.60" r="1.3" fill="#5a2a9a"/>
<circle cx="453.60" cy="622.70" r="1.3" fill="#5a2a9a"/>
<circle cx="463.70" cy="622.10" r="1.3" fill="#5a2a9a"/>
<circle cx="476.10" cy="624.40" r="1.3" fill="#5a2a9a"/>
<circle cx="485.40" cy="624.40" r="1.3" fill="#5a2a9a"/>
<circle cx="496.90" cy="627.90" r="1.3" fill="#5a2a9a"/>
<polyline points="303.50,660.80 313.00,660.50 324.90,659.70 334.40,657.00 346.00,655.50 354.50,654.40 368.30,648.00 377.80,644.90 390.50,637.50 398.80,627.90 411.00,612.90 420.50,599.90 432.90,585.50 441.50,581.70 453.60,580.90 463.70,580.30 476.10,589.00 485.40,597.00 496.90,594.70" fill="none" stroke="#e0207e" stroke-width="1.6" stroke-linejoin="round" />
<circle cx="303.50" cy="660.80" r="1.3" fill="#e0207e"/>
<circle cx="313.00" cy="660.50" r="1.3" fill="#e0207e"/>
<circle cx="324.90" cy="659.70" r="1.3" fill="#e0207e"/>
<circle cx="334.40" cy="657.00" r="1.3" fill="#e0207e"/>
<circle cx="346.00" cy="655.50" r="1.3" fill="#e0207e"/>
<circle cx="354.50" cy="654.40" r="1.3" fill="#e0207e"/>
<circle cx="368.30" cy="648.00" r="1.3" fill="#e0207e"/>
<circle cx="377.80" cy="644.90" r="1.3" fill="#e0207e"/>
<circle cx="390.50" cy="637.50" r="1.3" fill="#e0207e"/>
<circle cx="398.80" cy="627.90" r="1.3" fill="#e0207e"/>
<circle cx="411.00" cy="612.90" r="1.3" fill="#e0207e"/>
<circle cx="420.50" cy="599.90" r="1.3" fill="#e0207e"/>
<circle cx="432.90" cy="585.50" r="1.3" fill="#e0207e"/>
<circle cx="441.50" cy="581.70" r="1.3" fill="#e0207e"/>
<circle cx="453.60" cy="580.90" r="1.3" fill="#e0207e"/>
<circle cx="463.70" cy="580.30" r="1.3" fill="#e0207e"/>
<circle cx="476.10" cy="589.00" r="1.3" fill="#e0207e"/>
<circle cx="485.40" cy="597.00" r="1.3" fill="#e0207e"/>
<circle cx="496.90" cy="594.70" r="1.3" fill="#e0207e"/>
<polyline points="303.50,659.70 312.80,656.10 323.80,655.50 334.40,653.40 346.00,654.00 354.50,654.40 368.30,641.30 377.80,630.10 389.60,612.00 398.80,593.80 409.00,567.30" fill="none" stroke="#f07a20" stroke-width="1.6" stroke-linejoin="round" />
<circle cx="303.50" cy="659.70" r="1.3" fill="#f07a20"/>
<circle cx="312.80" cy="656.10" r="1.3" fill="#f07a20"/>
<circle cx="323.80" cy="655.50" r="1.3" fill="#f07a20"/>
<circle cx="334.40" cy="653.40" r="1.3" fill="#f07a20"/>
<circle cx="346.00" cy="654.00" r="1.3" fill="#f07a20"/>
<circle cx="354.50" cy="654.40" r="1.3" fill="#f07a20"/>
<circle cx="368.30" cy="641.30" r="1.3" fill="#f07a20"/>
<circle cx="377.80" cy="630.10" r="1.3" fill="#f07a20"/>
<circle cx="389.60" cy="612.00" r="1.3" fill="#f07a20"/>
<circle cx="398.80" cy="593.80" r="1.3" fill="#f07a20"/>
<circle cx="409.00" cy="567.30" r="1.3" fill="#f07a20"/>
<polyline points="303.50,658.70 312.80,654.00 324.90,648.00 334.40,637.90 346.00,625.90 355.80,610.80 368.80,606.20 377.50,591.60" fill="none" stroke="#000000" stroke-width="1.6" stroke-linejoin="round" />
<circle cx="303.50" cy="658.70" r="1.3" fill="#000000"/>
<circle cx="312.80" cy="654.00" r="1.3" fill="#000000"/>
<circle cx="324.90" cy="648.00" r="1.3" fill="#000000"/>
<circle cx="334.40" cy="637.90" r="1.3" fill="#000000"/>
<circle cx="346.00" cy="625.90" r="1.3" fill="#000000"/>
<circle cx="355.80" cy="610.80" r="1.3" fill="#000000"/>
<circle cx="368.80" cy="606.20" r="1.3" fill="#000000"/>
<circle cx="377.50" cy="591.60" r="1.3" fill="#000000"/>
<line x1="303.30" y1="567.50" x2="303.30" y2="666.20" stroke="#000" stroke-width="1.3" />
<line x1="302.70" y1="665.60" x2="500.50" y2="665.60" stroke="#000" stroke-width="1.3" />
<polygon points="413.80,604.50 410.70,599.90 416.90,599.90" fill="#000"/>
<line x1="413.80" y1="600.30" x2="413.80" y2="596.70" stroke="#000" stroke-width="1.4" />
<polygon points="432.90,628.00 429.80,623.40 436.00,623.40" fill="#000"/>
<line x1="432.90" y1="623.80" x2="432.90" y2="620.20" stroke="#000" stroke-width="1.4" />
<polygon points="453.60,618.60 450.50,614.00 456.70,614.00" fill="#000"/>
<line x1="453.60" y1="614.40" x2="453.60" y2="610.80" stroke="#000" stroke-width="1.4" />
<polygon points="453.60,634.20 450.50,638.80 456.70,638.80" fill="#000"/>
<line x1="453.60" y1="638.40" x2="453.60" y2="642.00" stroke="#000" stroke-width="1.4" />
<polygon points="476.10,632.40 473.00,637.00 479.20,637.00" fill="#000"/>
<line x1="476.10" y1="636.60" x2="476.10" y2="640.20" stroke="#000" stroke-width="1.4" />
<text x="291.3" y="698.6" font-size="10.4" font-weight="bold" text-anchor="end" textLength="142.6" lengthAdjust="spacingAndGlyphs"><tspan fill="#4f8a46">Group 2: Paclitaxel</tspan><tspan fill="#000">/</tspan><tspan fill="#e3303a">tinengotinib</tspan></text>
<text x="294.00" y="718.20" font-size="10.2" font-weight="bold" fill="#111" text-anchor="end" stroke="#111" stroke-width="0.2" textLength="104.5" lengthAdjust="spacingAndGlyphs" >Days after treatment(d)</text>
<g filter="url(#sh)" opacity="0.45"><line x1="417.20" y1="696.00" x2="489.60" y2="696.00" stroke="#777" stroke-width="1.9"/><polygon points="496.80,696.00 489.60,692.40 489.60,699.60" fill="#777"/></g>
<line x1="416.60" y1="694.70" x2="489.50" y2="694.70" stroke="#e8323a" stroke-width="1.9" />
<polygon points="496.20,694.70 489.00,691.10 489.00,698.30" fill="#e8323a"/>
<g filter="url(#sh)" opacity="0.45"><line x1="303.40" y1="696.00" x2="410.00" y2="696.00" stroke="#777" stroke-width="1.9"/><polygon points="417.20,696.00 410.00,692.40 410.00,699.60" fill="#777"/></g>
<line x1="302.80" y1="694.70" x2="409.90" y2="694.70" stroke="#4e7f45" stroke-width="1.9" />
<polygon points="416.60,694.70 409.40,691.10 409.40,698.30" fill="#4e7f45"/>
<line x1="303.20" y1="714.70" x2="495.20" y2="714.70" stroke="#4a72c4" stroke-width="1.4" />
<line x1="303.20" y1="708.40" x2="303.20" y2="720.20" stroke="#4a72c4" stroke-width="1.4" />
<line x1="377.80" y1="708.40" x2="377.80" y2="720.20" stroke="#4a72c4" stroke-width="1.4" />
<line x1="413.70" y1="708.40" x2="413.70" y2="720.20" stroke="#4a72c4" stroke-width="1.4" />
<line x1="495.20" y1="708.40" x2="495.20" y2="720.20" stroke="#4a72c4" stroke-width="1.4" />
<text x="303.00" y="728.90" font-size="10.0" font-weight="bold" fill="#111" text-anchor="middle" stroke="#111" stroke-width="0.2" >0</text>
<text x="377.80" y="728.90" font-size="10.0" font-weight="bold" fill="#111" text-anchor="middle" stroke="#111" stroke-width="0.2" >24</text>
<text x="413.60" y="728.90" font-size="10.0" font-weight="bold" fill="#111" text-anchor="middle" stroke="#111" stroke-width="0.2" >36</text>
<text x="495.20" y="728.90" font-size="10.0" font-weight="bold" fill="#111" text-anchor="middle" stroke="#111" stroke-width="0.2" >63</text>
<polygon points="413.60,731.40 417.00,737.00 415.50,737.00 415.50,745.30 411.70,745.30 411.70,737.00 410.20,737.00" fill="#fff" stroke="#7f9bd1" stroke-width="0.75" stroke-linejoin="miter"/>
<text x="417.2" y="756.4" font-size="10.2" font-weight="bold" text-anchor="middle" textLength="137.5" lengthAdjust="spacingAndGlyphs" fill="#111">Switching <tspan fill="#4f8a46">paclitaxel</tspan> to <tspan fill="#e3303a">tinengotinib</tspan></text>
<text x="415.60" y="767.80" font-size="10.2" font-weight="bold" fill="#111" text-anchor="middle" stroke="#111" stroke-width="0.2" textLength="13.0" lengthAdjust="spacingAndGlyphs" >for</text>
<text x="422.40" y="778.60" font-size="10.2" font-weight="bold" fill="#111" text-anchor="middle" stroke="#111" stroke-width="0.2" textLength="110" lengthAdjust="spacingAndGlyphs" >individual TV &gt; 1,000 mm<tspan font-size="6.6" dy="-3.4">3</tspan></text>
</svg>
</body></html>
